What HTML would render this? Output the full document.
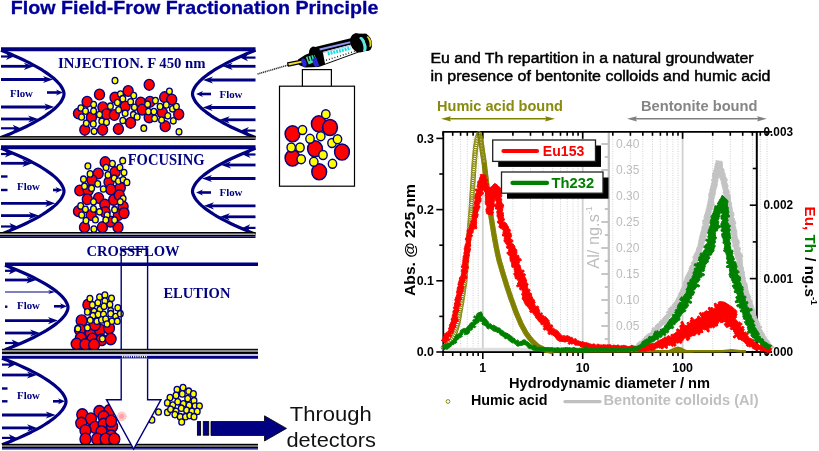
<!DOCTYPE html>
<html lang="en"><head><meta charset="utf-8"><title>Flow Field-Frow Fractionation Principle</title>
<style>html,body{margin:0;padding:0;background:#fff;}body{width:819px;height:451px;overflow:hidden;}svg{display:block;}</style>
</head><body>
<svg width="819" height="451" viewBox="0 0 819 451">
<rect width="819" height="451" fill="#fff"/>
<text x="10.8" y="14.1" font-family="'Liberation Sans', sans-serif" font-size="17.8" font-weight="bold" fill="#000099" textLength="367.5" lengthAdjust="spacingAndGlyphs" stroke="#000099" stroke-width="0.3">Flow Field-Frow Fractionation Principle</text>
<g id="fff">
<line x1="1" y1="49.2" x2="255.5" y2="49.2" stroke="#000080" stroke-width="4"/>
<path d="M1,50.2 L5.5,52 L9.9,53.8 L14.1,55.7 L18.2,57.5 L22.1,59.3 L25.9,61.1 L29.5,62.9 L33,64.8 L36.3,66.6 L39.5,68.4 L42.5,70.2 L45.3,72.1 L47.9,73.9 L50.4,75.7 L52.7,77.5 L54.8,79.3 L56.7,81.2 L58.4,83 L60,84.8 L61.3,86.6 L62.3,88.4 L63.2,90.3 L63.8,92.1 L64,93.9 L63.8,95.7 L63.2,97.5 L62.3,99.4 L61.3,101.2 L60,103 L58.4,104.8 L56.7,106.6 L54.8,108.5 L52.7,110.3 L50.4,112.1 L47.9,113.9 L45.3,115.8 L42.5,117.6 L39.5,119.4 L36.3,121.2 L33,123 L29.5,124.9 L25.9,126.7 L22.1,128.5 L18.2,130.3 L14.1,132.1 L9.9,134 L5.5,135.8 L1,137.6" fill="none" stroke="#000080" stroke-width="3.2" stroke-linejoin="round"/>
<path d="M255.5,50.2 L251,52 L246.6,53.8 L242.4,55.7 L238.3,57.5 L234.4,59.3 L230.6,61.1 L227,62.9 L223.5,64.8 L220.2,66.6 L217,68.4 L214,70.2 L211.2,72.1 L208.6,73.9 L206.1,75.7 L203.8,77.5 L201.7,79.3 L199.8,81.2 L198.1,83 L196.5,84.8 L195.2,86.6 L194.2,88.4 L193.3,90.3 L192.7,92.1 L192.5,93.9 L192.7,95.7 L193.3,97.5 L194.2,99.4 L195.2,101.2 L196.5,103 L198.1,104.8 L199.8,106.6 L201.7,108.5 L203.8,110.3 L206.1,112.1 L208.6,113.9 L211.2,115.8 L214,117.6 L217,119.4 L220.2,121.2 L223.5,123 L227,124.9 L230.6,126.7 L234.4,128.5 L238.3,130.3 L242.4,132.1 L246.6,134 L251,135.8 L255.5,137.6" fill="none" stroke="#000080" stroke-width="3.2" stroke-linejoin="round"/>
<line x1="1" y1="56.5" x2="9.2" y2="56.5" stroke="#000080" stroke-width="2.2"/>
<polygon points="14,56.5 6,52.9 8.4,56.5 6,60.1" fill="#000080"/>
<line x1="1" y1="66.3" x2="27.8" y2="66.3" stroke="#000080" stroke-width="2.8"/>
<polygon points="33.8,66.3 23.8,62.7 26.8,66.3 23.8,69.9" fill="#000080"/>
<line x1="1" y1="79.5" x2="47" y2="79.5" stroke="#000080" stroke-width="2.8"/>
<polygon points="53,79.5 43,75.9 46,79.5 43,83.1" fill="#000080"/>
<line x1="1" y1="107" x2="48.3" y2="107" stroke="#000080" stroke-width="2.8"/>
<polygon points="54.3,107 44.3,103.4 47.3,107 44.3,110.6" fill="#000080"/>
<line x1="1" y1="119" x2="32.1" y2="119" stroke="#000080" stroke-width="2.8"/>
<polygon points="38.1,119 28.1,115.4 31.1,119 28.1,122.6" fill="#000080"/>
<line x1="1" y1="128.3" x2="15.8" y2="128.3" stroke="#000080" stroke-width="2.2"/>
<polygon points="20.6,128.3 12.6,124.7 15,128.3 12.6,131.9" fill="#000080"/>
<line x1="47" y1="92.5" x2="58.8" y2="92.5" stroke="#000080" stroke-width="2.6"/>
<polygon points="63,92.5 56,89.5 58.1,92.5 56,95.5" fill="#000080"/>
<line x1="255.5" y1="57.6" x2="244.8" y2="57.6" stroke="#000080" stroke-width="2.2"/>
<polygon points="240,57.6 248,54 245.6,57.6 248,61.2" fill="#000080"/>
<line x1="255.5" y1="66.3" x2="228.7" y2="66.3" stroke="#000080" stroke-width="2.8"/>
<polygon points="222.7,66.3 232.7,62.7 229.7,66.3 232.7,69.9" fill="#000080"/>
<line x1="255.5" y1="80" x2="209" y2="80" stroke="#000080" stroke-width="2.8"/>
<polygon points="203,80 213,76.4 210,80 213,83.6" fill="#000080"/>
<line x1="255.5" y1="107.5" x2="208.7" y2="107.5" stroke="#000080" stroke-width="2.8"/>
<polygon points="202.7,107.5 212.7,103.9 209.7,107.5 212.7,111.1" fill="#000080"/>
<line x1="255.5" y1="119.8" x2="225.7" y2="119.8" stroke="#000080" stroke-width="2.8"/>
<polygon points="219.7,119.8 229.7,116.2 226.7,119.8 229.7,123.4" fill="#000080"/>
<line x1="255.5" y1="130.6" x2="245.7" y2="130.6" stroke="#000080" stroke-width="2.2"/>
<polygon points="240.9,130.6 248.9,127 246.5,130.6 248.9,134.2" fill="#000080"/>
<line x1="211" y1="94" x2="200.2" y2="94" stroke="#000080" stroke-width="2.6"/>
<polygon points="196,94 203,91 200.9,94 203,97" fill="#000080"/>
<rect x="0" y="136.1" width="255.5" height="3.9" fill="#000"/>
<rect x="0" y="137.5" width="255.5" height="1.1" fill="#b0b0b0"/>
<line x1="1" y1="147.3" x2="255.5" y2="147.3" stroke="#000080" stroke-width="4"/>
<path d="M1,148.3 L5.5,150.1 L9.9,151.9 L14.1,153.7 L18.2,155.5 L22.1,157.2 L25.9,159 L29.5,160.8 L33,162.6 L36.3,164.4 L39.5,166.2 L42.5,168 L45.3,169.8 L47.9,171.6 L50.4,173.4 L52.7,175.1 L54.8,176.9 L56.7,178.7 L58.4,180.5 L60,182.3 L61.3,184.1 L62.3,185.9 L63.2,187.7 L63.8,189.5 L64,191.2 L63.8,193 L63.2,194.8 L62.3,196.6 L61.3,198.4 L60,200.2 L58.4,202 L56.7,203.8 L54.8,205.6 L52.7,207.4 L50.4,209.1 L47.9,210.9 L45.3,212.7 L42.5,214.5 L39.5,216.3 L36.3,218.1 L33,219.9 L29.5,221.7 L25.9,223.5 L22.1,225.3 L18.2,227 L14.1,228.8 L9.9,230.6 L5.5,232.4 L1,234.2" fill="none" stroke="#000080" stroke-width="3.2" stroke-linejoin="round"/>
<path d="M255.5,148.3 L251,150.1 L246.6,151.9 L242.4,153.7 L238.3,155.5 L234.4,157.2 L230.6,159 L227,160.8 L223.5,162.6 L220.2,164.4 L217,166.2 L214,168 L211.2,169.8 L208.6,171.6 L206.1,173.4 L203.8,175.1 L201.7,176.9 L199.8,178.7 L198.1,180.5 L196.5,182.3 L195.2,184.1 L194.2,185.9 L193.3,187.7 L192.7,189.5 L192.5,191.2 L192.7,193 L193.3,194.8 L194.2,196.6 L195.2,198.4 L196.5,200.2 L198.1,202 L199.8,203.8 L201.7,205.6 L203.8,207.4 L206.1,209.1 L208.6,210.9 L211.2,212.7 L214,214.5 L217,216.3 L220.2,218.1 L223.5,219.9 L227,221.7 L230.6,223.5 L234.4,225.3 L238.3,227 L242.4,228.8 L246.6,230.6 L251,232.4 L255.5,234.2" fill="none" stroke="#000080" stroke-width="3.2" stroke-linejoin="round"/>
<line x1="1" y1="154" x2="8.1" y2="154" stroke="#000080" stroke-width="2.2"/>
<polygon points="12.9,154 4.9,150.4 7.3,154 4.9,157.6" fill="#000080"/>
<line x1="1" y1="163.3" x2="26.3" y2="163.3" stroke="#000080" stroke-width="2.8"/>
<polygon points="32.3,163.3 22.3,159.7 25.3,163.3 22.3,166.9" fill="#000080"/>
<line x1="1" y1="203.3" x2="49.2" y2="203.3" stroke="#000080" stroke-width="2.8"/>
<polygon points="55.2,203.3 45.2,199.7 48.2,203.3 45.2,206.9" fill="#000080"/>
<line x1="1" y1="215.6" x2="32.7" y2="215.6" stroke="#000080" stroke-width="2.8"/>
<polygon points="38.7,215.6 28.7,212 31.7,215.6 28.7,219.2" fill="#000080"/>
<line x1="1" y1="226.5" x2="12.6" y2="226.5" stroke="#000080" stroke-width="2.2"/>
<polygon points="17.4,226.5 9.4,222.9 11.8,226.5 9.4,230.1" fill="#000080"/>
<rect x="1" y="175.3" width="6.5" height="2.4" fill="#000080"/><rect x="1" y="188.8" width="6.5" height="2.4" fill="#000080"/>
<line x1="53" y1="190" x2="58.3" y2="190" stroke="#000080" stroke-width="2.6"/>
<polygon points="62.5,190 55.5,187 57.6,190 55.5,193" fill="#000080"/>
<line x1="255.5" y1="154.5" x2="247.3" y2="154.5" stroke="#000080" stroke-width="2.2"/>
<polygon points="242.5,154.5 250.5,150.9 248.1,154.5 250.5,158.1" fill="#000080"/>
<line x1="255.5" y1="165" x2="227.1" y2="165" stroke="#000080" stroke-width="2.8"/>
<polygon points="221.1,165 231.1,161.4 228.1,165 231.1,168.6" fill="#000080"/>
<line x1="255.5" y1="178.5" x2="208" y2="178.5" stroke="#000080" stroke-width="2.8"/>
<polygon points="202,178.5 212,174.9 209,178.5 212,182.1" fill="#000080"/>
<line x1="255.5" y1="205.8" x2="210" y2="205.8" stroke="#000080" stroke-width="2.8"/>
<polygon points="204,205.8 214,202.2 211,205.8 214,209.4" fill="#000080"/>
<line x1="255.5" y1="216.8" x2="225.9" y2="216.8" stroke="#000080" stroke-width="2.8"/>
<polygon points="219.9,216.8 229.9,213.2 226.9,216.8 229.9,220.4" fill="#000080"/>
<line x1="255.5" y1="227.9" x2="247" y2="227.9" stroke="#000080" stroke-width="2.2"/>
<polygon points="242.2,227.9 250.2,224.3 247.8,227.9 250.2,231.5" fill="#000080"/>
<line x1="211" y1="192.5" x2="200.2" y2="192.5" stroke="#000080" stroke-width="2.6"/>
<polygon points="196,192.5 203,189.5 200.9,192.5 203,195.5" fill="#000080"/>
<rect x="0" y="232" width="255.5" height="4.5" fill="#000"/>
<rect x="0" y="233.6" width="255.5" height="1.1" fill="#f0f0f0"/>
<rect x="0" y="236.5" width="255.5" height="1.5" fill="#000080"/>
<line x1="5" y1="264.2" x2="258" y2="264.2" stroke="#000080" stroke-width="3.4"/>
<path d="M5,265.2 L9.5,267 L13.9,268.7 L18.1,270.5 L22.2,272.2 L26.1,274 L29.9,275.8 L33.5,277.5 L37,279.3 L40.3,281.1 L43.5,282.8 L46.5,284.6 L49.3,286.4 L51.9,288.1 L54.4,289.9 L56.7,291.6 L58.8,293.4 L60.7,295.2 L62.4,296.9 L64,298.7 L65.3,300.4 L66.3,302.2 L67.2,304 L67.8,305.7 L68,307.5 L67.8,309.3 L67.2,311 L66.3,312.8 L65.3,314.6 L64,316.3 L62.4,318.1 L60.7,319.8 L58.8,321.6 L56.7,323.4 L54.4,325.1 L51.9,326.9 L49.3,328.6 L46.5,330.4 L43.5,332.2 L40.3,333.9 L37,335.7 L33.5,337.5 L29.9,339.2 L26.1,341 L22.2,342.8 L18.1,344.5 L13.9,346.3 L9.5,348 L5,349.8" fill="none" stroke="#000080" stroke-width="3.2" stroke-linejoin="round"/>
<line x1="5" y1="270.8" x2="12.1" y2="270.8" stroke="#000080" stroke-width="2.2"/>
<polygon points="16.9,270.8 8.9,267.2 11.3,270.8 8.9,274.4" fill="#000080"/>
<line x1="5" y1="280" x2="30.3" y2="280" stroke="#000080" stroke-width="2.8"/>
<polygon points="36.3,280 26.3,276.4 29.3,280 26.3,283.6" fill="#000080"/>
<line x1="5" y1="320.6" x2="51.9" y2="320.6" stroke="#000080" stroke-width="2.8"/>
<polygon points="57.9,320.6 47.9,317 50.9,320.6 47.9,324.2" fill="#000080"/>
<line x1="5" y1="333" x2="34" y2="333" stroke="#000080" stroke-width="2.8"/>
<polygon points="40,333 30,329.4 33,333 30,336.6" fill="#000080"/>
<line x1="5" y1="343" x2="14.8" y2="343" stroke="#000080" stroke-width="2.2"/>
<polygon points="19.6,343 11.6,339.4 14,343 11.6,346.6" fill="#000080"/>
<line x1="5" y1="292" x2="50.9" y2="292" stroke="#000080" stroke-width="1"/>
<polygon points="55.1,292 48.1,290 50.2,292 48.1,294" fill="#000080"/>
<rect x="5" y="305.5" width="2.4" height="2.4" fill="#000080"/>
<line x1="54" y1="306.3" x2="62.8" y2="306.3" stroke="#000080" stroke-width="2.6"/>
<polygon points="67,306.3 60,303.3 62.1,306.3 60,309.3" fill="#000080"/>
<line x1="2" y1="357.2" x2="258" y2="357.2" stroke="#000080" stroke-width="3"/>
<path d="M2,358.2 L6.6,360 L11,361.8 L15.3,363.6 L19.5,365.4 L23.5,367.2 L27.3,369 L31,370.8 L34.5,372.6 L37.9,374.4 L41.1,376.2 L44.1,378 L47,379.9 L49.7,381.7 L52.2,383.5 L54.5,385.3 L56.6,387.1 L58.6,388.9 L60.3,390.7 L61.9,392.5 L63.2,394.3 L64.3,396.1 L65.2,397.9 L65.8,399.7 L66,401.5 L65.8,403.3 L65.2,405.1 L64.3,406.9 L63.2,408.7 L61.9,410.5 L60.3,412.3 L58.6,414.1 L56.6,415.9 L54.5,417.7 L52.2,419.5 L49.7,421.3 L47,423.1 L44.1,425 L41.1,426.8 L37.9,428.6 L34.5,430.4 L31,432.2 L27.3,434 L23.5,435.8 L19.5,437.6 L15.3,439.4 L11,441.2 L6.6,443 L2,444.8" fill="none" stroke="#000080" stroke-width="3.2" stroke-linejoin="round"/>
<line x1="2" y1="364.6" x2="10.8" y2="364.6" stroke="#000080" stroke-width="2.2"/>
<polygon points="15.6,364.6 7.6,361 10,364.6 7.6,368.2" fill="#000080"/>
<line x1="2" y1="375" x2="30.9" y2="375" stroke="#000080" stroke-width="2.8"/>
<polygon points="36.9,375 26.9,371.4 29.9,375 26.9,378.6" fill="#000080"/>
<line x1="2" y1="415" x2="49.7" y2="415" stroke="#000080" stroke-width="2.8"/>
<polygon points="55.7,415 45.7,411.4 48.7,415 45.7,418.6" fill="#000080"/>
<line x1="2" y1="427.9" x2="31.1" y2="427.9" stroke="#000080" stroke-width="2.8"/>
<polygon points="37.1,427.9 27.1,424.3 30.1,427.9 27.1,431.5" fill="#000080"/>
<line x1="2" y1="437.9" x2="12" y2="437.9" stroke="#000080" stroke-width="2.2"/>
<polygon points="16.8,437.9 8.8,434.3 11.2,437.9 8.8,441.5" fill="#000080"/>
<rect x="2" y="387.3" width="5.5" height="2.4" fill="#000080"/><rect x="2" y="400.1" width="5.5" height="2.4" fill="#000080"/>
<line x1="53" y1="401.3" x2="60.8" y2="401.3" stroke="#000080" stroke-width="2.6"/>
<polygon points="65,401.3 58,398.3 60.1,401.3 58,404.3" fill="#000080"/>
<text x="57.9" y="67.6" font-family="'Liberation Serif', serif" font-size="15.6" font-weight="bold" fill="#000080" textLength="147.7" lengthAdjust="spacingAndGlyphs">INJECTION. F 450 nm</text>
<text x="127.7" y="165.1" font-family="'Liberation Serif', serif" font-size="15.7" font-weight="bold" fill="#000080" textLength="76.8" lengthAdjust="spacingAndGlyphs">FOCUSING</text>
<text x="86.6" y="256.2" font-family="'Liberation Serif', serif" font-size="15.6" font-weight="bold" fill="#000080" textLength="93" lengthAdjust="spacingAndGlyphs">CROSSFLOW</text>
<text x="163.4" y="298.2" font-family="'Liberation Serif', serif" font-size="15.3" font-weight="bold" fill="#000080" textLength="67" lengthAdjust="spacingAndGlyphs">ELUTION</text>
<text x="10" y="97.3" font-family="'Liberation Serif', serif" font-size="11.2" font-weight="bold" fill="#000080" textLength="23" lengthAdjust="spacingAndGlyphs">Flow</text>
<text x="219.5" y="98.3" font-family="'Liberation Serif', serif" font-size="11.2" font-weight="bold" fill="#000080" textLength="23" lengthAdjust="spacingAndGlyphs">Flow</text>
<text x="17" y="189.5" font-family="'Liberation Serif', serif" font-size="11.2" font-weight="bold" fill="#000080" textLength="23" lengthAdjust="spacingAndGlyphs">Flow</text>
<text x="219.5" y="196" font-family="'Liberation Serif', serif" font-size="11.2" font-weight="bold" fill="#000080" textLength="23" lengthAdjust="spacingAndGlyphs">Flow</text>
<text x="17" y="308.5" font-family="'Liberation Serif', serif" font-size="11.2" font-weight="bold" fill="#000080" textLength="23" lengthAdjust="spacingAndGlyphs">Flow</text>
<text x="17" y="399.3" font-family="'Liberation Serif', serif" font-size="11.2" font-weight="bold" fill="#000080" textLength="23" lengthAdjust="spacingAndGlyphs">Flow</text>
<ellipse cx="87.1" cy="101.8" rx="5" ry="5.4" fill="#ff0000" stroke="#000080" stroke-width="1.4"/>
<ellipse cx="99.5" cy="94.5" rx="5" ry="5.4" fill="#ff0000" stroke="#000080" stroke-width="1.4"/>
<ellipse cx="78.5" cy="113.5" rx="5" ry="5.4" fill="#ff0000" stroke="#000080" stroke-width="1.4"/>
<ellipse cx="91.4" cy="117.4" rx="5" ry="5.4" fill="#ff0000" stroke="#000080" stroke-width="1.4"/>
<ellipse cx="102.9" cy="107.3" rx="5" ry="5.4" fill="#ff0000" stroke="#000080" stroke-width="1.4"/>
<ellipse cx="106.5" cy="114.3" rx="5" ry="5.4" fill="#ff0000" stroke="#000080" stroke-width="1.4"/>
<ellipse cx="84.8" cy="129.8" rx="5" ry="5.4" fill="#ff0000" stroke="#000080" stroke-width="1.4"/>
<ellipse cx="102.6" cy="129.8" rx="5" ry="5.4" fill="#ff0000" stroke="#000080" stroke-width="1.4"/>
<ellipse cx="115" cy="97.6" rx="5" ry="5.4" fill="#ff0000" stroke="#000080" stroke-width="1.4"/>
<ellipse cx="128.2" cy="91" rx="5" ry="5.4" fill="#ff0000" stroke="#000080" stroke-width="1.4"/>
<ellipse cx="125.1" cy="106.5" rx="5" ry="5.4" fill="#ff0000" stroke="#000080" stroke-width="1.4"/>
<ellipse cx="114.3" cy="115" rx="5" ry="5.4" fill="#ff0000" stroke="#000080" stroke-width="1.4"/>
<ellipse cx="130.6" cy="122.8" rx="5" ry="5.4" fill="#ff0000" stroke="#000080" stroke-width="1.4"/>
<ellipse cx="118.4" cy="129" rx="5" ry="5.4" fill="#ff0000" stroke="#000080" stroke-width="1.4"/>
<ellipse cx="140.7" cy="102.6" rx="5" ry="5.4" fill="#ff0000" stroke="#000080" stroke-width="1.4"/>
<ellipse cx="142.2" cy="109.6" rx="5" ry="5.4" fill="#ff0000" stroke="#000080" stroke-width="1.4"/>
<ellipse cx="149.2" cy="84.8" rx="5" ry="5.4" fill="#ff0000" stroke="#000080" stroke-width="1.4"/>
<ellipse cx="150" cy="101.8" rx="5" ry="5.4" fill="#ff0000" stroke="#000080" stroke-width="1.4"/>
<ellipse cx="149.2" cy="117.4" rx="5" ry="5.4" fill="#ff0000" stroke="#000080" stroke-width="1.4"/>
<ellipse cx="164.7" cy="97.2" rx="5" ry="5.4" fill="#ff0000" stroke="#000080" stroke-width="1.4"/>
<ellipse cx="171.7" cy="99.5" rx="5" ry="5.4" fill="#ff0000" stroke="#000080" stroke-width="1.4"/>
<ellipse cx="162.4" cy="112.7" rx="5" ry="5.4" fill="#ff0000" stroke="#000080" stroke-width="1.4"/>
<ellipse cx="178.7" cy="114.3" rx="5" ry="5.4" fill="#ff0000" stroke="#000080" stroke-width="1.4"/>
<ellipse cx="165.2" cy="126.2" rx="5" ry="5.4" fill="#ff0000" stroke="#000080" stroke-width="1.4"/>
<ellipse cx="115" cy="80.6" rx="2.9" ry="3.2" fill="#ffff00" stroke="#000080" stroke-width="1.3"/>
<ellipse cx="93.6" cy="104.5" rx="2.9" ry="3.2" fill="#ffff00" stroke="#000080" stroke-width="1.3"/>
<ellipse cx="80.9" cy="108" rx="2.9" ry="3.2" fill="#ffff00" stroke="#000080" stroke-width="1.3"/>
<ellipse cx="85.5" cy="111.1" rx="2.9" ry="3.2" fill="#ffff00" stroke="#000080" stroke-width="1.3"/>
<ellipse cx="93.6" cy="111.1" rx="2.9" ry="3.2" fill="#ffff00" stroke="#000080" stroke-width="1.3"/>
<ellipse cx="81.6" cy="117" rx="2.9" ry="3.2" fill="#ffff00" stroke="#000080" stroke-width="1.3"/>
<ellipse cx="99.5" cy="114.6" rx="2.9" ry="3.2" fill="#ffff00" stroke="#000080" stroke-width="1.3"/>
<ellipse cx="110.4" cy="106.2" rx="2.9" ry="3.2" fill="#ffff00" stroke="#000080" stroke-width="1.3"/>
<ellipse cx="86.3" cy="123.3" rx="2.9" ry="3.2" fill="#ffff00" stroke="#000080" stroke-width="1.3"/>
<ellipse cx="93.3" cy="123.9" rx="2.9" ry="3.2" fill="#ffff00" stroke="#000080" stroke-width="1.3"/>
<ellipse cx="101.8" cy="121.2" rx="2.9" ry="3.2" fill="#ffff00" stroke="#000080" stroke-width="1.3"/>
<ellipse cx="106.5" cy="122.3" rx="2.9" ry="3.2" fill="#ffff00" stroke="#000080" stroke-width="1.3"/>
<ellipse cx="94.1" cy="131.3" rx="2.9" ry="3.2" fill="#ffff00" stroke="#000080" stroke-width="1.3"/>
<ellipse cx="120.5" cy="94.1" rx="2.9" ry="3.2" fill="#ffff00" stroke="#000080" stroke-width="1.3"/>
<ellipse cx="122.8" cy="98.7" rx="2.9" ry="3.2" fill="#ffff00" stroke="#000080" stroke-width="1.3"/>
<ellipse cx="117.4" cy="102.6" rx="2.9" ry="3.2" fill="#ffff00" stroke="#000080" stroke-width="1.3"/>
<ellipse cx="130.6" cy="101.8" rx="2.9" ry="3.2" fill="#ffff00" stroke="#000080" stroke-width="1.3"/>
<ellipse cx="133.7" cy="95.6" rx="2.9" ry="3.2" fill="#ffff00" stroke="#000080" stroke-width="1.3"/>
<ellipse cx="134.4" cy="107.3" rx="2.9" ry="3.2" fill="#ffff00" stroke="#000080" stroke-width="1.3"/>
<ellipse cx="118.6" cy="109.9" rx="2.9" ry="3.2" fill="#ffff00" stroke="#000080" stroke-width="1.3"/>
<ellipse cx="125.1" cy="113.2" rx="2.9" ry="3.2" fill="#ffff00" stroke="#000080" stroke-width="1.3"/>
<ellipse cx="133.4" cy="114.7" rx="2.9" ry="3.2" fill="#ffff00" stroke="#000080" stroke-width="1.3"/>
<ellipse cx="137.1" cy="116.9" rx="2.9" ry="3.2" fill="#ffff00" stroke="#000080" stroke-width="1.3"/>
<ellipse cx="122.8" cy="120.5" rx="2.9" ry="3.2" fill="#ffff00" stroke="#000080" stroke-width="1.3"/>
<ellipse cx="143.8" cy="128.2" rx="2.9" ry="3.2" fill="#ffff00" stroke="#000080" stroke-width="1.3"/>
<ellipse cx="147.6" cy="104.2" rx="2.9" ry="3.2" fill="#ffff00" stroke="#000080" stroke-width="1.3"/>
<ellipse cx="155.4" cy="100.6" rx="2.9" ry="3.2" fill="#ffff00" stroke="#000080" stroke-width="1.3"/>
<ellipse cx="148.4" cy="111.6" rx="2.9" ry="3.2" fill="#ffff00" stroke="#000080" stroke-width="1.3"/>
<ellipse cx="153.9" cy="111.6" rx="2.9" ry="3.2" fill="#ffff00" stroke="#000080" stroke-width="1.3"/>
<ellipse cx="154.6" cy="118.4" rx="2.9" ry="3.2" fill="#ffff00" stroke="#000080" stroke-width="1.3"/>
<ellipse cx="160.1" cy="106.5" rx="2.9" ry="3.2" fill="#ffff00" stroke="#000080" stroke-width="1.3"/>
<ellipse cx="166.3" cy="104.9" rx="2.9" ry="3.2" fill="#ffff00" stroke="#000080" stroke-width="1.3"/>
<ellipse cx="169.4" cy="91.3" rx="2.9" ry="3.2" fill="#ffff00" stroke="#000080" stroke-width="1.3"/>
<ellipse cx="172.5" cy="108.8" rx="2.9" ry="3.2" fill="#ffff00" stroke="#000080" stroke-width="1.3"/>
<ellipse cx="176.4" cy="106.5" rx="2.9" ry="3.2" fill="#ffff00" stroke="#000080" stroke-width="1.3"/>
<ellipse cx="167.8" cy="115.8" rx="2.9" ry="3.2" fill="#ffff00" stroke="#000080" stroke-width="1.3"/>
<ellipse cx="161.6" cy="120" rx="2.9" ry="3.2" fill="#ffff00" stroke="#000080" stroke-width="1.3"/>
<ellipse cx="173.3" cy="120.8" rx="2.9" ry="3.2" fill="#ffff00" stroke="#000080" stroke-width="1.3"/>
<ellipse cx="179" cy="131.8" rx="2.9" ry="3.2" fill="#ffff00" stroke="#000080" stroke-width="1.3"/>
<ellipse cx="105.2" cy="162.2" rx="5" ry="5.4" fill="#ff0000" stroke="#000080" stroke-width="1.4"/>
<ellipse cx="98.2" cy="173.5" rx="5" ry="5.4" fill="#ff0000" stroke="#000080" stroke-width="1.4"/>
<ellipse cx="115" cy="172.2" rx="5" ry="5.4" fill="#ff0000" stroke="#000080" stroke-width="1.4"/>
<ellipse cx="92" cy="180.1" rx="5" ry="5.4" fill="#ff0000" stroke="#000080" stroke-width="1.4"/>
<ellipse cx="109" cy="182" rx="5" ry="5.4" fill="#ff0000" stroke="#000080" stroke-width="1.4"/>
<ellipse cx="79.8" cy="190.5" rx="5" ry="5.4" fill="#ff0000" stroke="#000080" stroke-width="1.4"/>
<ellipse cx="88.2" cy="190.5" rx="5" ry="5.4" fill="#ff0000" stroke="#000080" stroke-width="1.4"/>
<ellipse cx="110.8" cy="189.5" rx="5" ry="5.4" fill="#ff0000" stroke="#000080" stroke-width="1.4"/>
<ellipse cx="120.3" cy="187.7" rx="5" ry="5.4" fill="#ff0000" stroke="#000080" stroke-width="1.4"/>
<ellipse cx="87.3" cy="199.3" rx="5" ry="5.4" fill="#ff0000" stroke="#000080" stroke-width="1.4"/>
<ellipse cx="98.6" cy="198" rx="5" ry="5.4" fill="#ff0000" stroke="#000080" stroke-width="1.4"/>
<ellipse cx="113.7" cy="199.9" rx="5" ry="5.4" fill="#ff0000" stroke="#000080" stroke-width="1.4"/>
<ellipse cx="119.3" cy="195.2" rx="5" ry="5.4" fill="#ff0000" stroke="#000080" stroke-width="1.4"/>
<ellipse cx="104.8" cy="204.6" rx="5" ry="5.4" fill="#ff0000" stroke="#000080" stroke-width="1.4"/>
<ellipse cx="123.1" cy="206.5" rx="5" ry="5.4" fill="#ff0000" stroke="#000080" stroke-width="1.4"/>
<ellipse cx="78.5" cy="211.2" rx="5" ry="5.4" fill="#ff0000" stroke="#000080" stroke-width="1.4"/>
<ellipse cx="91.1" cy="215" rx="5" ry="5.4" fill="#ff0000" stroke="#000080" stroke-width="1.4"/>
<ellipse cx="105.2" cy="212.1" rx="5" ry="5.4" fill="#ff0000" stroke="#000080" stroke-width="1.4"/>
<ellipse cx="118.4" cy="215" rx="5" ry="5.4" fill="#ff0000" stroke="#000080" stroke-width="1.4"/>
<ellipse cx="124" cy="213.1" rx="5" ry="5.4" fill="#ff0000" stroke="#000080" stroke-width="1.4"/>
<ellipse cx="84.5" cy="227.2" rx="5" ry="5.4" fill="#ff0000" stroke="#000080" stroke-width="1.4"/>
<ellipse cx="102.4" cy="227.2" rx="5" ry="5.4" fill="#ff0000" stroke="#000080" stroke-width="1.4"/>
<ellipse cx="118" cy="227.2" rx="5" ry="5.4" fill="#ff0000" stroke="#000080" stroke-width="1.4"/>
<ellipse cx="110.5" cy="221.6" rx="5" ry="5.4" fill="#ff0000" stroke="#000080" stroke-width="1.4"/>
<ellipse cx="87.9" cy="166" rx="2.9" ry="3.2" fill="#ffff00" stroke="#000080" stroke-width="1.3"/>
<ellipse cx="122.7" cy="160.7" rx="2.9" ry="3.2" fill="#ffff00" stroke="#000080" stroke-width="1.3"/>
<ellipse cx="112.4" cy="163.6" rx="2.9" ry="3.2" fill="#ffff00" stroke="#000080" stroke-width="1.3"/>
<ellipse cx="106.1" cy="167.5" rx="2.9" ry="3.2" fill="#ffff00" stroke="#000080" stroke-width="1.3"/>
<ellipse cx="119.9" cy="167.5" rx="2.9" ry="3.2" fill="#ffff00" stroke="#000080" stroke-width="1.3"/>
<ellipse cx="90.1" cy="173.9" rx="2.9" ry="3.2" fill="#ffff00" stroke="#000080" stroke-width="1.3"/>
<ellipse cx="108" cy="174.9" rx="2.9" ry="3.2" fill="#ffff00" stroke="#000080" stroke-width="1.3"/>
<ellipse cx="124" cy="172.6" rx="2.9" ry="3.2" fill="#ffff00" stroke="#000080" stroke-width="1.3"/>
<ellipse cx="83.5" cy="179.2" rx="2.9" ry="3.2" fill="#ffff00" stroke="#000080" stroke-width="1.3"/>
<ellipse cx="114.2" cy="178.2" rx="2.9" ry="3.2" fill="#ffff00" stroke="#000080" stroke-width="1.3"/>
<ellipse cx="118.4" cy="181.1" rx="2.9" ry="3.2" fill="#ffff00" stroke="#000080" stroke-width="1.3"/>
<ellipse cx="123.1" cy="179.8" rx="2.9" ry="3.2" fill="#ffff00" stroke="#000080" stroke-width="1.3"/>
<ellipse cx="126.9" cy="182.4" rx="2.9" ry="3.2" fill="#ffff00" stroke="#000080" stroke-width="1.3"/>
<ellipse cx="97.7" cy="183.9" rx="2.9" ry="3.2" fill="#ffff00" stroke="#000080" stroke-width="1.3"/>
<ellipse cx="84.5" cy="186.2" rx="2.9" ry="3.2" fill="#ffff00" stroke="#000080" stroke-width="1.3"/>
<ellipse cx="91.6" cy="188.2" rx="2.9" ry="3.2" fill="#ffff00" stroke="#000080" stroke-width="1.3"/>
<ellipse cx="103.3" cy="189" rx="2.9" ry="3.2" fill="#ffff00" stroke="#000080" stroke-width="1.3"/>
<ellipse cx="123.1" cy="198.6" rx="2.9" ry="3.2" fill="#ffff00" stroke="#000080" stroke-width="1.3"/>
<ellipse cx="120.3" cy="201.8" rx="2.9" ry="3.2" fill="#ffff00" stroke="#000080" stroke-width="1.3"/>
<ellipse cx="93.5" cy="201.8" rx="2.9" ry="3.2" fill="#ffff00" stroke="#000080" stroke-width="1.3"/>
<ellipse cx="80.7" cy="205.9" rx="2.9" ry="3.2" fill="#ffff00" stroke="#000080" stroke-width="1.3"/>
<ellipse cx="85.4" cy="209.3" rx="2.9" ry="3.2" fill="#ffff00" stroke="#000080" stroke-width="1.3"/>
<ellipse cx="93.5" cy="208.9" rx="2.9" ry="3.2" fill="#ffff00" stroke="#000080" stroke-width="1.3"/>
<ellipse cx="99.5" cy="211.8" rx="2.9" ry="3.2" fill="#ffff00" stroke="#000080" stroke-width="1.3"/>
<ellipse cx="114.6" cy="209.7" rx="2.9" ry="3.2" fill="#ffff00" stroke="#000080" stroke-width="1.3"/>
<ellipse cx="81.7" cy="215" rx="2.9" ry="3.2" fill="#ffff00" stroke="#000080" stroke-width="1.3"/>
<ellipse cx="107.1" cy="215" rx="2.9" ry="3.2" fill="#ffff00" stroke="#000080" stroke-width="1.3"/>
<ellipse cx="86" cy="220.6" rx="2.9" ry="3.2" fill="#ffff00" stroke="#000080" stroke-width="1.3"/>
<ellipse cx="95.4" cy="219.7" rx="2.9" ry="3.2" fill="#ffff00" stroke="#000080" stroke-width="1.3"/>
<ellipse cx="105.8" cy="220.1" rx="2.9" ry="3.2" fill="#ffff00" stroke="#000080" stroke-width="1.3"/>
<ellipse cx="114.6" cy="220.1" rx="2.9" ry="3.2" fill="#ffff00" stroke="#000080" stroke-width="1.3"/>
<ellipse cx="93.9" cy="229.1" rx="2.9" ry="3.2" fill="#ffff00" stroke="#000080" stroke-width="1.3"/>
<ellipse cx="81.6" cy="320.7" rx="5.4" ry="5.8" fill="#ff0000" stroke="#000080" stroke-width="1.4"/>
<ellipse cx="88.3" cy="304.9" rx="5.4" ry="5.8" fill="#ff0000" stroke="#000080" stroke-width="1.4"/>
<ellipse cx="79.9" cy="329.9" rx="5.4" ry="5.8" fill="#ff0000" stroke="#000080" stroke-width="1.4"/>
<ellipse cx="90.7" cy="333.2" rx="5.4" ry="5.8" fill="#ff0000" stroke="#000080" stroke-width="1.4"/>
<ellipse cx="99.9" cy="329.9" rx="5.4" ry="5.8" fill="#ff0000" stroke="#000080" stroke-width="1.4"/>
<ellipse cx="109" cy="328.2" rx="5.4" ry="5.8" fill="#ff0000" stroke="#000080" stroke-width="1.4"/>
<ellipse cx="80.8" cy="338.2" rx="5.4" ry="5.8" fill="#ff0000" stroke="#000080" stroke-width="1.4"/>
<ellipse cx="92.4" cy="339" rx="5.4" ry="5.8" fill="#ff0000" stroke="#000080" stroke-width="1.4"/>
<ellipse cx="101.5" cy="339.8" rx="5.4" ry="5.8" fill="#ff0000" stroke="#000080" stroke-width="1.4"/>
<ellipse cx="110.7" cy="339" rx="5.4" ry="5.8" fill="#ff0000" stroke="#000080" stroke-width="1.4"/>
<ellipse cx="76.6" cy="344" rx="5.4" ry="5.8" fill="#ff0000" stroke="#000080" stroke-width="1.4"/>
<ellipse cx="85.3" cy="344.5" rx="5.4" ry="5.8" fill="#ff0000" stroke="#000080" stroke-width="1.4"/>
<ellipse cx="94.1" cy="344.8" rx="5.4" ry="5.8" fill="#ff0000" stroke="#000080" stroke-width="1.4"/>
<ellipse cx="94.9" cy="324.9" rx="5.4" ry="5.8" fill="#ff0000" stroke="#000080" stroke-width="1.4"/>
<ellipse cx="89.9" cy="298.6" rx="2.9" ry="3.2" fill="#ffff00" stroke="#000080" stroke-width="1.3"/>
<ellipse cx="99.6" cy="297.1" rx="2.9" ry="3.2" fill="#ffff00" stroke="#000080" stroke-width="1.3"/>
<ellipse cx="104.9" cy="295" rx="2.9" ry="3.2" fill="#ffff00" stroke="#000080" stroke-width="1.3"/>
<ellipse cx="111.5" cy="298.3" rx="2.9" ry="3.2" fill="#ffff00" stroke="#000080" stroke-width="1.3"/>
<ellipse cx="92.4" cy="304.9" rx="2.9" ry="3.2" fill="#ffff00" stroke="#000080" stroke-width="1.3"/>
<ellipse cx="97.9" cy="302.8" rx="2.9" ry="3.2" fill="#ffff00" stroke="#000080" stroke-width="1.3"/>
<ellipse cx="104.9" cy="301.1" rx="2.9" ry="3.2" fill="#ffff00" stroke="#000080" stroke-width="1.3"/>
<ellipse cx="109.9" cy="304.6" rx="2.9" ry="3.2" fill="#ffff00" stroke="#000080" stroke-width="1.3"/>
<ellipse cx="117.8" cy="307.8" rx="2.9" ry="3.2" fill="#ffff00" stroke="#000080" stroke-width="1.3"/>
<ellipse cx="87.4" cy="311.9" rx="2.9" ry="3.2" fill="#ffff00" stroke="#000080" stroke-width="1.3"/>
<ellipse cx="94.1" cy="311.6" rx="2.9" ry="3.2" fill="#ffff00" stroke="#000080" stroke-width="1.3"/>
<ellipse cx="99.9" cy="309.6" rx="2.9" ry="3.2" fill="#ffff00" stroke="#000080" stroke-width="1.3"/>
<ellipse cx="104" cy="306.3" rx="2.9" ry="3.2" fill="#ffff00" stroke="#000080" stroke-width="1.3"/>
<ellipse cx="110.7" cy="310.7" rx="2.9" ry="3.2" fill="#ffff00" stroke="#000080" stroke-width="1.3"/>
<ellipse cx="92.9" cy="315.7" rx="2.9" ry="3.2" fill="#ffff00" stroke="#000080" stroke-width="1.3"/>
<ellipse cx="98.2" cy="314.4" rx="2.9" ry="3.2" fill="#ffff00" stroke="#000080" stroke-width="1.3"/>
<ellipse cx="103.5" cy="314.4" rx="2.9" ry="3.2" fill="#ffff00" stroke="#000080" stroke-width="1.3"/>
<ellipse cx="110.7" cy="313.7" rx="2.9" ry="3.2" fill="#ffff00" stroke="#000080" stroke-width="1.3"/>
<ellipse cx="115.7" cy="316.6" rx="2.9" ry="3.2" fill="#ffff00" stroke="#000080" stroke-width="1.3"/>
<ellipse cx="120.3" cy="313.7" rx="2.9" ry="3.2" fill="#ffff00" stroke="#000080" stroke-width="1.3"/>
<ellipse cx="90.2" cy="320.2" rx="2.9" ry="3.2" fill="#ffff00" stroke="#000080" stroke-width="1.3"/>
<ellipse cx="96.9" cy="321.2" rx="2.9" ry="3.2" fill="#ffff00" stroke="#000080" stroke-width="1.3"/>
<ellipse cx="101.5" cy="319.9" rx="2.9" ry="3.2" fill="#ffff00" stroke="#000080" stroke-width="1.3"/>
<ellipse cx="105.7" cy="319.1" rx="2.9" ry="3.2" fill="#ffff00" stroke="#000080" stroke-width="1.3"/>
<ellipse cx="111.9" cy="321.2" rx="2.9" ry="3.2" fill="#ffff00" stroke="#000080" stroke-width="1.3"/>
<ellipse cx="117.3" cy="321.2" rx="2.9" ry="3.2" fill="#ffff00" stroke="#000080" stroke-width="1.3"/>
<ellipse cx="107" cy="324" rx="2.9" ry="3.2" fill="#ffff00" stroke="#000080" stroke-width="1.3"/>
<ellipse cx="87.4" cy="327.7" rx="2.9" ry="3.2" fill="#ffff00" stroke="#000080" stroke-width="1.3"/>
<ellipse cx="77.9" cy="328.7" rx="2.9" ry="3.2" fill="#ffff00" stroke="#000080" stroke-width="1.3"/>
<ellipse cx="102.4" cy="338.7" rx="2.9" ry="3.2" fill="#ffff00" stroke="#000080" stroke-width="1.3"/>
<rect x="2" y="348.8" width="256" height="4.2" fill="#000"/>
<rect x="2" y="349.9" width="256" height="2.1" fill="#8c8c8c"/>
<rect x="2" y="353" width="256" height="1.2" fill="#000080"/>
<ellipse cx="82.3" cy="414.6" rx="5.5" ry="5.9" fill="#ff0000" stroke="#000080" stroke-width="1.4"/>
<ellipse cx="99.4" cy="411.4" rx="5.5" ry="5.9" fill="#ff0000" stroke="#000080" stroke-width="1.4"/>
<ellipse cx="109.4" cy="410.7" rx="5.5" ry="5.9" fill="#ff0000" stroke="#000080" stroke-width="1.4"/>
<ellipse cx="90.9" cy="418.8" rx="5.5" ry="5.9" fill="#ff0000" stroke="#000080" stroke-width="1.4"/>
<ellipse cx="103.6" cy="416.7" rx="5.5" ry="5.9" fill="#ff0000" stroke="#000080" stroke-width="1.4"/>
<ellipse cx="81.3" cy="423.1" rx="5.5" ry="5.9" fill="#ff0000" stroke="#000080" stroke-width="1.4"/>
<ellipse cx="95.1" cy="427.3" rx="5.5" ry="5.9" fill="#ff0000" stroke="#000080" stroke-width="1.4"/>
<ellipse cx="103.6" cy="424.1" rx="5.5" ry="5.9" fill="#ff0000" stroke="#000080" stroke-width="1.4"/>
<ellipse cx="112.1" cy="426.3" rx="5.5" ry="5.9" fill="#ff0000" stroke="#000080" stroke-width="1.4"/>
<ellipse cx="85.5" cy="430.5" rx="5.5" ry="5.9" fill="#ff0000" stroke="#000080" stroke-width="1.4"/>
<ellipse cx="101.5" cy="431.6" rx="5.5" ry="5.9" fill="#ff0000" stroke="#000080" stroke-width="1.4"/>
<ellipse cx="111.1" cy="435.9" rx="5.5" ry="5.9" fill="#ff0000" stroke="#000080" stroke-width="1.4"/>
<ellipse cx="85.5" cy="439" rx="5.5" ry="5.9" fill="#ff0000" stroke="#000080" stroke-width="1.4"/>
<ellipse cx="97.2" cy="439" rx="5.5" ry="5.9" fill="#ff0000" stroke="#000080" stroke-width="1.4"/>
<ellipse cx="105.7" cy="439" rx="5.5" ry="5.9" fill="#ff0000" stroke="#000080" stroke-width="1.4"/>
<ellipse cx="114.3" cy="439" rx="5.5" ry="5.9" fill="#ff0000" stroke="#000080" stroke-width="1.4"/>
<ellipse cx="111.1" cy="421" rx="5.5" ry="5.9" fill="#ff0000" stroke="#000080" stroke-width="1.4"/>
<ellipse cx="177" cy="389.5" rx="2.9" ry="3.2" fill="#ffff00" stroke="#000080" stroke-width="1.3"/>
<ellipse cx="183" cy="387.6" rx="2.9" ry="3.2" fill="#ffff00" stroke="#000080" stroke-width="1.3"/>
<ellipse cx="188.7" cy="391.2" rx="2.9" ry="3.2" fill="#ffff00" stroke="#000080" stroke-width="1.3"/>
<ellipse cx="193.4" cy="393.9" rx="2.9" ry="3.2" fill="#ffff00" stroke="#000080" stroke-width="1.3"/>
<ellipse cx="170" cy="397.6" rx="2.9" ry="3.2" fill="#ffff00" stroke="#000080" stroke-width="1.3"/>
<ellipse cx="176" cy="395.4" rx="2.9" ry="3.2" fill="#ffff00" stroke="#000080" stroke-width="1.3"/>
<ellipse cx="182.3" cy="393.9" rx="2.9" ry="3.2" fill="#ffff00" stroke="#000080" stroke-width="1.3"/>
<ellipse cx="187.7" cy="398.6" rx="2.9" ry="3.2" fill="#ffff00" stroke="#000080" stroke-width="1.3"/>
<ellipse cx="194" cy="400.7" rx="2.9" ry="3.2" fill="#ffff00" stroke="#000080" stroke-width="1.3"/>
<ellipse cx="167.4" cy="402.9" rx="2.9" ry="3.2" fill="#ffff00" stroke="#000080" stroke-width="1.3"/>
<ellipse cx="172.8" cy="405" rx="2.9" ry="3.2" fill="#ffff00" stroke="#000080" stroke-width="1.3"/>
<ellipse cx="177.7" cy="401.8" rx="2.9" ry="3.2" fill="#ffff00" stroke="#000080" stroke-width="1.3"/>
<ellipse cx="183.4" cy="403.9" rx="2.9" ry="3.2" fill="#ffff00" stroke="#000080" stroke-width="1.3"/>
<ellipse cx="189.1" cy="405.4" rx="2.9" ry="3.2" fill="#ffff00" stroke="#000080" stroke-width="1.3"/>
<ellipse cx="195.1" cy="406.1" rx="2.9" ry="3.2" fill="#ffff00" stroke="#000080" stroke-width="1.3"/>
<ellipse cx="199.4" cy="406.1" rx="2.9" ry="3.2" fill="#ffff00" stroke="#000080" stroke-width="1.3"/>
<ellipse cx="167.4" cy="412.4" rx="2.9" ry="3.2" fill="#ffff00" stroke="#000080" stroke-width="1.3"/>
<ellipse cx="170.6" cy="409.3" rx="2.9" ry="3.2" fill="#ffff00" stroke="#000080" stroke-width="1.3"/>
<ellipse cx="176" cy="411.4" rx="2.9" ry="3.2" fill="#ffff00" stroke="#000080" stroke-width="1.3"/>
<ellipse cx="181.3" cy="408.2" rx="2.9" ry="3.2" fill="#ffff00" stroke="#000080" stroke-width="1.3"/>
<ellipse cx="186.6" cy="410.3" rx="2.9" ry="3.2" fill="#ffff00" stroke="#000080" stroke-width="1.3"/>
<ellipse cx="191.9" cy="411.4" rx="2.9" ry="3.2" fill="#ffff00" stroke="#000080" stroke-width="1.3"/>
<ellipse cx="197.2" cy="411.4" rx="2.9" ry="3.2" fill="#ffff00" stroke="#000080" stroke-width="1.3"/>
<ellipse cx="174.9" cy="414.6" rx="2.9" ry="3.2" fill="#ffff00" stroke="#000080" stroke-width="1.3"/>
<ellipse cx="180.2" cy="416.7" rx="2.9" ry="3.2" fill="#ffff00" stroke="#000080" stroke-width="1.3"/>
<ellipse cx="185.5" cy="416.7" rx="2.9" ry="3.2" fill="#ffff00" stroke="#000080" stroke-width="1.3"/>
<ellipse cx="189.8" cy="415.6" rx="2.9" ry="3.2" fill="#ffff00" stroke="#000080" stroke-width="1.3"/>
<ellipse cx="194" cy="416.7" rx="2.9" ry="3.2" fill="#ffff00" stroke="#000080" stroke-width="1.3"/>
<ellipse cx="181.7" cy="422" rx="2.9" ry="3.2" fill="#ffff00" stroke="#000080" stroke-width="1.3"/>
<ellipse cx="158.5" cy="412" rx="2.9" ry="3.2" fill="#ffff00" stroke="#000080" stroke-width="1.3"/>
<ellipse cx="151.9" cy="419.9" rx="2.9" ry="3.2" fill="#ffff00" stroke="#000080" stroke-width="1.3"/>
<rect x="2" y="443.8" width="256" height="4.5" fill="#000"/>
<rect x="2" y="445.2" width="256" height="1.6" fill="#8c8c8c"/>
<rect x="2" y="448.3" width="256" height="1.2" fill="#000080"/>
<path d="M121.2,349.5 V249.3 H147.6 V349.5" stroke="#000080" stroke-width="1.4" fill="none"/>
<path d="M121.2,358.5 V399.7 H106.5 L133.6,449 L161,399.7 H147.6 V358.5" fill="#fff" stroke="#000080" stroke-width="1.4" stroke-linejoin="miter"/>
<line x1="122" y1="356.6" x2="147" y2="356.6" stroke="#fff" stroke-width="1.6" stroke-dasharray="1.2 1"/>
<circle cx="121.7" cy="416.3" r="4.4" fill="#ffd0d0" stroke="#ff9090" stroke-width="0.8" stroke-dasharray="1 1"/>
<circle cx="121.7" cy="416.3" r="2.6" fill="#ff8080" opacity="0.55"/>
<rect x="197.4" y="421.6" width="3.2" height="13.6" fill="#000080" stroke="#000" stroke-width="0.9"/>
<rect x="203.3" y="421.6" width="5.4" height="13.6" fill="#000080" stroke="#000" stroke-width="0.9"/>
<polygon points="211,421.5 264.5,421.5 264.5,415.8 286.5,428.4 264.5,441 264.5,435.5 211,435.5" fill="#000080" stroke="#000" stroke-width="0.8"/>
<text x="289.7" y="421.3" font-family="'Liberation Sans', sans-serif" font-size="20.8" font-weight="normal" fill="#111" textLength="82" lengthAdjust="spacingAndGlyphs">Through</text>
<text x="286.4" y="447.2" font-family="'Liberation Sans', sans-serif" font-size="20.8" font-weight="normal" fill="#111" textLength="89.6" lengthAdjust="spacingAndGlyphs">detectors</text>
<rect x="302.4" y="69.6" width="29" height="17" fill="#fff" stroke="#000" stroke-width="1.2"/>
<rect x="279.5" y="86.2" width="75" height="100" fill="#fff" stroke="#000" stroke-width="1.2"/>
<ellipse cx="292.5" cy="133.8" rx="7.4" ry="8" fill="#ff0000" stroke="#000080" stroke-width="1.5"/>
<ellipse cx="318.8" cy="123.8" rx="7.4" ry="8" fill="#ff0000" stroke="#000080" stroke-width="1.5"/>
<ellipse cx="330" cy="127.5" rx="7.4" ry="8" fill="#ff0000" stroke="#000080" stroke-width="1.5"/>
<ellipse cx="315" cy="148.8" rx="7.4" ry="8" fill="#ff0000" stroke="#000080" stroke-width="1.5"/>
<ellipse cx="292.5" cy="158" rx="7.4" ry="8" fill="#ff0000" stroke="#000080" stroke-width="1.5"/>
<ellipse cx="342" cy="152" rx="7.4" ry="8" fill="#ff0000" stroke="#000080" stroke-width="1.5"/>
<ellipse cx="319.2" cy="171.8" rx="7.4" ry="8" fill="#ff0000" stroke="#000080" stroke-width="1.5"/>
<ellipse cx="325.8" cy="114.2" rx="4.2" ry="4.5" fill="#ffff00" stroke="#000080" stroke-width="1.4"/>
<ellipse cx="302.5" cy="130" rx="4.2" ry="4.5" fill="#ffff00" stroke="#000080" stroke-width="1.4"/>
<ellipse cx="310" cy="138.8" rx="4.2" ry="4.5" fill="#ffff00" stroke="#000080" stroke-width="1.4"/>
<ellipse cx="320.8" cy="136.2" rx="4.2" ry="4.5" fill="#ffff00" stroke="#000080" stroke-width="1.4"/>
<ellipse cx="291.2" cy="147.5" rx="4.2" ry="4.5" fill="#ffff00" stroke="#000080" stroke-width="1.4"/>
<ellipse cx="300" cy="147.5" rx="4.2" ry="4.5" fill="#ffff00" stroke="#000080" stroke-width="1.4"/>
<ellipse cx="301.2" cy="159.2" rx="4.2" ry="4.5" fill="#ffff00" stroke="#000080" stroke-width="1.4"/>
<ellipse cx="313.8" cy="161.8" rx="4.2" ry="4.5" fill="#ffff00" stroke="#000080" stroke-width="1.4"/>
<ellipse cx="323" cy="155" rx="4.2" ry="4.5" fill="#ffff00" stroke="#000080" stroke-width="1.4"/>
<ellipse cx="332" cy="143" rx="4.2" ry="4.5" fill="#ffff00" stroke="#000080" stroke-width="1.4"/>
<ellipse cx="337.5" cy="139.2" rx="4.2" ry="4.5" fill="#ffff00" stroke="#000080" stroke-width="1.4"/>
<ellipse cx="332.5" cy="163.8" rx="4.2" ry="4.5" fill="#ffff00" stroke="#000080" stroke-width="1.4"/>
<g id="syringe">
<line x1="257.5" y1="74" x2="289" y2="64.8" stroke="#333" stroke-width="1.6" stroke-dasharray="1.2 0.7"/>
<polygon points="298,59.5 305,55 312,52 320,62 318,67 305,67.6 299,65" fill="#000"/>
<polygon points="287.6,62.8 303,59.8 303.8,62.8 288.4,66.2" fill="#f5e030" stroke="#000" stroke-width="1.2" stroke-linejoin="round"/>
<ellipse cx="315.4" cy="56.8" rx="6" ry="10.6" fill="#000" transform="rotate(-17 315.4 56.8)"/>
<ellipse cx="304" cy="62.6" rx="2.4" ry="4.3" fill="#2828d8" transform="rotate(-17 304 62.6)"/>
<polygon points="305.8,57 314.6,54.8 316.8,61 308.6,64.6" fill="#48e0a8"/>
<path d="M308,56.4 L309.4,61 M310.8,55.7 L312.3,60.6 M313.5,55 L315,60" stroke="#000" stroke-width="1.1"/>
<ellipse cx="316.2" cy="62.2" rx="3.3" ry="4.6" fill="#2828d8" transform="rotate(-17 316.2 62.2)"/>
<polygon points="313.2,47.4 352.7,37.8 358.5,52.6 319.5,66.7" fill="#000"/>
<polygon points="319.3,48.5 358,39.4 358.5,41.3 319.9,50.5" fill="#8d98ee"/>
<polygon points="322.8,51.9 360,42.2 360,51 325,63.7" fill="#fff"/><polygon points="322.8,51.9 360,42.2 360,43.4 323,53.2" fill="#b8c4e8"/>
<line x1="327.8" y1="53.9" x2="350.7" y2="48.1" stroke="#10e0e8" stroke-width="3.3" stroke-dasharray="1.9 1.0"/>
<line x1="326.2" y1="60.2" x2="354.6" y2="51.4" stroke="#000" stroke-width="1.5" stroke-dasharray="0.8 2.1"/>
<ellipse cx="357.4" cy="42.8" rx="7" ry="9.8" fill="#000" transform="rotate(-17 357.4 42.8)"/>
<ellipse cx="366" cy="42.4" rx="5.8" ry="8.8" fill="#000" transform="rotate(-17 366 42.4)"/>
<polygon points="355,33.6 366.5,33.8 369,50 360.4,52.4" fill="#000"/>
<ellipse cx="362.6" cy="44.4" rx="3.6" ry="7.6" fill="#5ce8e0" transform="rotate(-17 362.2 44.4)"/>
<ellipse cx="360" cy="44.9" rx="2.9" ry="7.2" fill="#000" transform="rotate(-17 360 44.9)"/>
<ellipse cx="368.7" cy="41.6" rx="2.5" ry="5.4" fill="#e6d21c" transform="rotate(-17 368.6 41.6)"/>
<ellipse cx="367.2" cy="41.9" rx="1.9" ry="5" fill="#000" transform="rotate(-17 367.2 41.9)"/>
</g>
</g>
<g id="chart">
<text x="430.5" y="62.5" font-family="'Liberation Sans', sans-serif" font-size="14" font-weight="normal" fill="#000" textLength="323" lengthAdjust="spacingAndGlyphs" stroke="#000" stroke-width="0.45">Eu and Th repartition in a natural groundwater</text>
<text x="430.5" y="81.3" font-family="'Liberation Sans', sans-serif" font-size="14" font-weight="normal" fill="#000" textLength="340" lengthAdjust="spacingAndGlyphs" stroke="#000" stroke-width="0.45">in presence of bentonite colloids and humic acid</text>
<text x="437" y="110.8" font-family="'Liberation Sans', sans-serif" font-size="14.5" font-weight="bold" fill="#8a8a10" textLength="126" lengthAdjust="spacingAndGlyphs">Humic acid bound</text>
<line x1="445" y1="118.8" x2="551" y2="118.8" stroke="#808000" stroke-width="1.6"/>
<polygon points="441,118.8 451,116.2 449.5,118.8 451,121.4" fill="#808000"/><polygon points="555,118.8 545,116.2 546.5,118.8 545,121.4" fill="#808000"/>
<text x="641" y="110.8" font-family="'Liberation Sans', sans-serif" font-size="14.5" font-weight="bold" fill="#858585" textLength="116.5" lengthAdjust="spacingAndGlyphs">Bentonite bound</text>
<line x1="631" y1="118.8" x2="763" y2="118.8" stroke="#808080" stroke-width="1.6"/>
<polygon points="627,118.8 637,116.2 635.5,118.8 637,121.4" fill="#808080"/><polygon points="767,118.8 757,116.2 758.5,118.8 757,121.4" fill="#808080"/>
<line x1="452.7" y1="131.8" x2="452.7" y2="352.0" stroke="#cfcfcf" stroke-width="1" stroke-dasharray="1 1.4"/>
<line x1="460.6" y1="131.8" x2="460.6" y2="352.0" stroke="#cfcfcf" stroke-width="1" stroke-dasharray="1 1.4"/>
<line x1="467.3" y1="131.8" x2="467.3" y2="352.0" stroke="#cfcfcf" stroke-width="1" stroke-dasharray="1 1.4"/>
<line x1="473.1" y1="131.8" x2="473.1" y2="352.0" stroke="#cfcfcf" stroke-width="1" stroke-dasharray="1 1.4"/>
<line x1="478.2" y1="131.8" x2="478.2" y2="352.0" stroke="#cfcfcf" stroke-width="1" stroke-dasharray="1 1.4"/>
<line x1="512.9" y1="131.8" x2="512.9" y2="352.0" stroke="#cfcfcf" stroke-width="1" stroke-dasharray="1 1.4"/>
<line x1="530.5" y1="131.8" x2="530.5" y2="352.0" stroke="#cfcfcf" stroke-width="1" stroke-dasharray="1 1.4"/>
<line x1="542.9" y1="131.8" x2="542.9" y2="352.0" stroke="#cfcfcf" stroke-width="1" stroke-dasharray="1 1.4"/>
<line x1="552.6" y1="131.8" x2="552.6" y2="352.0" stroke="#cfcfcf" stroke-width="1" stroke-dasharray="1 1.4"/>
<line x1="560.5" y1="131.8" x2="560.5" y2="352.0" stroke="#cfcfcf" stroke-width="1" stroke-dasharray="1 1.4"/>
<line x1="567.2" y1="131.8" x2="567.2" y2="352.0" stroke="#cfcfcf" stroke-width="1" stroke-dasharray="1 1.4"/>
<line x1="573" y1="131.8" x2="573" y2="352.0" stroke="#cfcfcf" stroke-width="1" stroke-dasharray="1 1.4"/>
<line x1="578.1" y1="131.8" x2="578.1" y2="352.0" stroke="#cfcfcf" stroke-width="1" stroke-dasharray="1 1.4"/>
<line x1="612.8" y1="131.8" x2="612.8" y2="352.0" stroke="#cfcfcf" stroke-width="1" stroke-dasharray="1 1.4"/>
<line x1="630.4" y1="131.8" x2="630.4" y2="352.0" stroke="#cfcfcf" stroke-width="1" stroke-dasharray="1 1.4"/>
<line x1="642.8" y1="131.8" x2="642.8" y2="352.0" stroke="#cfcfcf" stroke-width="1" stroke-dasharray="1 1.4"/>
<line x1="652.5" y1="131.8" x2="652.5" y2="352.0" stroke="#cfcfcf" stroke-width="1" stroke-dasharray="1 1.4"/>
<line x1="660.4" y1="131.8" x2="660.4" y2="352.0" stroke="#cfcfcf" stroke-width="1" stroke-dasharray="1 1.4"/>
<line x1="667.1" y1="131.8" x2="667.1" y2="352.0" stroke="#cfcfcf" stroke-width="1" stroke-dasharray="1 1.4"/>
<line x1="672.9" y1="131.8" x2="672.9" y2="352.0" stroke="#cfcfcf" stroke-width="1" stroke-dasharray="1 1.4"/>
<line x1="678" y1="131.8" x2="678" y2="352.0" stroke="#cfcfcf" stroke-width="1" stroke-dasharray="1 1.4"/>
<line x1="712.7" y1="131.8" x2="712.7" y2="352.0" stroke="#cfcfcf" stroke-width="1" stroke-dasharray="1 1.4"/>
<line x1="730.3" y1="131.8" x2="730.3" y2="352.0" stroke="#cfcfcf" stroke-width="1" stroke-dasharray="1 1.4"/>
<line x1="742.7" y1="131.8" x2="742.7" y2="352.0" stroke="#cfcfcf" stroke-width="1" stroke-dasharray="1 1.4"/>
<line x1="752.4" y1="131.8" x2="752.4" y2="352.0" stroke="#cfcfcf" stroke-width="1" stroke-dasharray="1 1.4"/>
<line x1="760.3" y1="131.8" x2="760.3" y2="352.0" stroke="#cfcfcf" stroke-width="1" stroke-dasharray="1 1.4"/>
<line x1="767" y1="131.8" x2="767" y2="352.0" stroke="#cfcfcf" stroke-width="1" stroke-dasharray="1 1.4"/>
<line x1="482.8" y1="131.8" x2="482.8" y2="352.0" stroke="#d0d0d0" stroke-width="1.8"/>
<line x1="582.7" y1="131.8" x2="582.7" y2="352.0" stroke="#d0d0d0" stroke-width="1.8"/>
<line x1="682.6" y1="131.8" x2="682.6" y2="352.0" stroke="#d0d0d0" stroke-width="1.8"/>
<line x1="608.8" y1="131.8" x2="608.8" y2="352.0" stroke="#c0c0c0" stroke-width="2.2"/>
<line x1="601.3" y1="352" x2="608.8" y2="352" stroke="#c0c0c0" stroke-width="1.8"/>
<line x1="604.8" y1="339" x2="608.8" y2="339" stroke="#c0c0c0" stroke-width="1.8"/>
<line x1="601.3" y1="326" x2="608.8" y2="326" stroke="#c0c0c0" stroke-width="1.8"/>
<line x1="604.8" y1="313" x2="608.8" y2="313" stroke="#c0c0c0" stroke-width="1.8"/>
<line x1="601.3" y1="300" x2="608.8" y2="300" stroke="#c0c0c0" stroke-width="1.8"/>
<line x1="604.8" y1="287" x2="608.8" y2="287" stroke="#c0c0c0" stroke-width="1.8"/>
<line x1="601.3" y1="274" x2="608.8" y2="274" stroke="#c0c0c0" stroke-width="1.8"/>
<line x1="604.8" y1="261" x2="608.8" y2="261" stroke="#c0c0c0" stroke-width="1.8"/>
<line x1="601.3" y1="248" x2="608.8" y2="248" stroke="#c0c0c0" stroke-width="1.8"/>
<line x1="604.8" y1="235" x2="608.8" y2="235" stroke="#c0c0c0" stroke-width="1.8"/>
<line x1="601.3" y1="222" x2="608.8" y2="222" stroke="#c0c0c0" stroke-width="1.8"/>
<line x1="604.8" y1="209" x2="608.8" y2="209" stroke="#c0c0c0" stroke-width="1.8"/>
<line x1="601.3" y1="196" x2="608.8" y2="196" stroke="#c0c0c0" stroke-width="1.8"/>
<line x1="604.8" y1="183" x2="608.8" y2="183" stroke="#c0c0c0" stroke-width="1.8"/>
<line x1="601.3" y1="170" x2="608.8" y2="170" stroke="#c0c0c0" stroke-width="1.8"/>
<line x1="604.8" y1="157" x2="608.8" y2="157" stroke="#c0c0c0" stroke-width="1.8"/>
<line x1="601.3" y1="144" x2="608.8" y2="144" stroke="#c0c0c0" stroke-width="1.8"/>
<text x="616" y="330.4" font-family="'Liberation Sans', sans-serif" font-size="12.4" font-weight="normal" fill="#bdbdbd" textLength="23.4" lengthAdjust="spacingAndGlyphs">0.05</text>
<text x="616" y="304.4" font-family="'Liberation Sans', sans-serif" font-size="12.4" font-weight="normal" fill="#bdbdbd" textLength="23.4" lengthAdjust="spacingAndGlyphs">0.10</text>
<text x="616" y="278.4" font-family="'Liberation Sans', sans-serif" font-size="12.4" font-weight="normal" fill="#bdbdbd" textLength="23.4" lengthAdjust="spacingAndGlyphs">0.15</text>
<text x="616" y="252.4" font-family="'Liberation Sans', sans-serif" font-size="12.4" font-weight="normal" fill="#bdbdbd" textLength="23.4" lengthAdjust="spacingAndGlyphs">0.20</text>
<text x="616" y="226.4" font-family="'Liberation Sans', sans-serif" font-size="12.4" font-weight="normal" fill="#bdbdbd" textLength="23.4" lengthAdjust="spacingAndGlyphs">0.25</text>
<text x="616" y="200.4" font-family="'Liberation Sans', sans-serif" font-size="12.4" font-weight="normal" fill="#bdbdbd" textLength="23.4" lengthAdjust="spacingAndGlyphs">0.30</text>
<text x="616" y="174.4" font-family="'Liberation Sans', sans-serif" font-size="12.4" font-weight="normal" fill="#bdbdbd" textLength="23.4" lengthAdjust="spacingAndGlyphs">0.35</text>
<text x="616" y="148.4" font-family="'Liberation Sans', sans-serif" font-size="12.4" font-weight="normal" fill="#bdbdbd" textLength="23.4" lengthAdjust="spacingAndGlyphs">0.40</text>
<text transform="translate(599,268.8) rotate(-90)" font-family="'Liberation Sans', sans-serif" font-size="16.4" fill="#bdbdbd">Al/ ng.s<tspan dy="-7" font-size="9">-1</tspan></text>
<path d="M443.3,131.8 H772.0" stroke="#000" stroke-width="1.8" fill="none"/>
<path d="M443.3,130.9 V352.9" stroke="#000" stroke-width="1.8" fill="none"/>
<path d="M442.40000000000003,352.0 H772.0" stroke="#000" stroke-width="1.8" fill="none"/>
<path d="M756.8,131.8 V352.0" stroke="#000" stroke-width="2" fill="none"/>
<line x1="443" y1="131.8" x2="443" y2="135.8" stroke="#000" stroke-width="1.6"/>
<line x1="443" y1="352.0" x2="443" y2="356" stroke="#000" stroke-width="1.6"/>
<line x1="452.7" y1="131.8" x2="452.7" y2="135.8" stroke="#000" stroke-width="1.6"/>
<line x1="452.7" y1="352.0" x2="452.7" y2="356" stroke="#000" stroke-width="1.6"/>
<line x1="460.6" y1="131.8" x2="460.6" y2="135.8" stroke="#000" stroke-width="1.6"/>
<line x1="460.6" y1="352.0" x2="460.6" y2="356" stroke="#000" stroke-width="1.6"/>
<line x1="467.3" y1="131.8" x2="467.3" y2="135.8" stroke="#000" stroke-width="1.6"/>
<line x1="467.3" y1="352.0" x2="467.3" y2="356" stroke="#000" stroke-width="1.6"/>
<line x1="473.1" y1="131.8" x2="473.1" y2="135.8" stroke="#000" stroke-width="1.6"/>
<line x1="473.1" y1="352.0" x2="473.1" y2="356" stroke="#000" stroke-width="1.6"/>
<line x1="478.2" y1="131.8" x2="478.2" y2="135.8" stroke="#000" stroke-width="1.6"/>
<line x1="478.2" y1="352.0" x2="478.2" y2="356" stroke="#000" stroke-width="1.6"/>
<line x1="482.8" y1="131.8" x2="482.8" y2="138.8" stroke="#000" stroke-width="1.6"/>
<line x1="482.8" y1="352.0" x2="482.8" y2="359" stroke="#000" stroke-width="1.6"/>
<line x1="512.9" y1="131.8" x2="512.9" y2="135.8" stroke="#000" stroke-width="1.6"/>
<line x1="512.9" y1="352.0" x2="512.9" y2="356" stroke="#000" stroke-width="1.6"/>
<line x1="530.5" y1="131.8" x2="530.5" y2="135.8" stroke="#000" stroke-width="1.6"/>
<line x1="530.5" y1="352.0" x2="530.5" y2="356" stroke="#000" stroke-width="1.6"/>
<line x1="542.9" y1="131.8" x2="542.9" y2="135.8" stroke="#000" stroke-width="1.6"/>
<line x1="542.9" y1="352.0" x2="542.9" y2="356" stroke="#000" stroke-width="1.6"/>
<line x1="552.6" y1="131.8" x2="552.6" y2="135.8" stroke="#000" stroke-width="1.6"/>
<line x1="552.6" y1="352.0" x2="552.6" y2="356" stroke="#000" stroke-width="1.6"/>
<line x1="560.5" y1="131.8" x2="560.5" y2="135.8" stroke="#000" stroke-width="1.6"/>
<line x1="560.5" y1="352.0" x2="560.5" y2="356" stroke="#000" stroke-width="1.6"/>
<line x1="567.2" y1="131.8" x2="567.2" y2="135.8" stroke="#000" stroke-width="1.6"/>
<line x1="567.2" y1="352.0" x2="567.2" y2="356" stroke="#000" stroke-width="1.6"/>
<line x1="573" y1="131.8" x2="573" y2="135.8" stroke="#000" stroke-width="1.6"/>
<line x1="573" y1="352.0" x2="573" y2="356" stroke="#000" stroke-width="1.6"/>
<line x1="578.1" y1="131.8" x2="578.1" y2="135.8" stroke="#000" stroke-width="1.6"/>
<line x1="578.1" y1="352.0" x2="578.1" y2="356" stroke="#000" stroke-width="1.6"/>
<line x1="582.7" y1="131.8" x2="582.7" y2="138.8" stroke="#000" stroke-width="1.6"/>
<line x1="582.7" y1="352.0" x2="582.7" y2="359" stroke="#000" stroke-width="1.6"/>
<line x1="612.8" y1="131.8" x2="612.8" y2="135.8" stroke="#000" stroke-width="1.6"/>
<line x1="612.8" y1="352.0" x2="612.8" y2="356" stroke="#000" stroke-width="1.6"/>
<line x1="630.4" y1="131.8" x2="630.4" y2="135.8" stroke="#000" stroke-width="1.6"/>
<line x1="630.4" y1="352.0" x2="630.4" y2="356" stroke="#000" stroke-width="1.6"/>
<line x1="642.8" y1="131.8" x2="642.8" y2="135.8" stroke="#000" stroke-width="1.6"/>
<line x1="642.8" y1="352.0" x2="642.8" y2="356" stroke="#000" stroke-width="1.6"/>
<line x1="652.5" y1="131.8" x2="652.5" y2="135.8" stroke="#000" stroke-width="1.6"/>
<line x1="652.5" y1="352.0" x2="652.5" y2="356" stroke="#000" stroke-width="1.6"/>
<line x1="660.4" y1="131.8" x2="660.4" y2="135.8" stroke="#000" stroke-width="1.6"/>
<line x1="660.4" y1="352.0" x2="660.4" y2="356" stroke="#000" stroke-width="1.6"/>
<line x1="667.1" y1="131.8" x2="667.1" y2="135.8" stroke="#000" stroke-width="1.6"/>
<line x1="667.1" y1="352.0" x2="667.1" y2="356" stroke="#000" stroke-width="1.6"/>
<line x1="672.9" y1="131.8" x2="672.9" y2="135.8" stroke="#000" stroke-width="1.6"/>
<line x1="672.9" y1="352.0" x2="672.9" y2="356" stroke="#000" stroke-width="1.6"/>
<line x1="678" y1="131.8" x2="678" y2="135.8" stroke="#000" stroke-width="1.6"/>
<line x1="678" y1="352.0" x2="678" y2="356" stroke="#000" stroke-width="1.6"/>
<line x1="682.6" y1="131.8" x2="682.6" y2="138.8" stroke="#000" stroke-width="1.6"/>
<line x1="682.6" y1="352.0" x2="682.6" y2="359" stroke="#000" stroke-width="1.6"/>
<line x1="712.7" y1="131.8" x2="712.7" y2="135.8" stroke="#000" stroke-width="1.6"/>
<line x1="712.7" y1="352.0" x2="712.7" y2="356" stroke="#000" stroke-width="1.6"/>
<line x1="730.3" y1="131.8" x2="730.3" y2="135.8" stroke="#000" stroke-width="1.6"/>
<line x1="730.3" y1="352.0" x2="730.3" y2="356" stroke="#000" stroke-width="1.6"/>
<line x1="742.7" y1="131.8" x2="742.7" y2="135.8" stroke="#000" stroke-width="1.6"/>
<line x1="742.7" y1="352.0" x2="742.7" y2="356" stroke="#000" stroke-width="1.6"/>
<line x1="752.4" y1="131.8" x2="752.4" y2="135.8" stroke="#000" stroke-width="1.6"/>
<line x1="752.4" y1="352.0" x2="752.4" y2="356" stroke="#000" stroke-width="1.6"/>
<line x1="760.3" y1="131.8" x2="760.3" y2="135.8" stroke="#000" stroke-width="1.6"/>
<line x1="760.3" y1="352.0" x2="760.3" y2="356" stroke="#000" stroke-width="1.6"/>
<line x1="767" y1="131.8" x2="767" y2="135.8" stroke="#000" stroke-width="1.6"/>
<line x1="767" y1="352.0" x2="767" y2="356" stroke="#000" stroke-width="1.6"/>
<line x1="436.3" y1="352" x2="443.3" y2="352" stroke="#000" stroke-width="1.6"/>
<line x1="439.3" y1="316.4" x2="443.3" y2="316.4" stroke="#000" stroke-width="1.6"/>
<line x1="436.3" y1="280.8" x2="443.3" y2="280.8" stroke="#000" stroke-width="1.6"/>
<line x1="439.3" y1="245.2" x2="443.3" y2="245.2" stroke="#000" stroke-width="1.6"/>
<line x1="436.3" y1="209.6" x2="443.3" y2="209.6" stroke="#000" stroke-width="1.6"/>
<line x1="439.3" y1="174" x2="443.3" y2="174" stroke="#000" stroke-width="1.6"/>
<line x1="436.3" y1="138.4" x2="443.3" y2="138.4" stroke="#000" stroke-width="1.6"/>
<text x="416.7" y="356.4" font-family="'Liberation Sans', sans-serif" font-size="12.6" font-weight="bold" fill="#000" textLength="17.3" lengthAdjust="spacingAndGlyphs">0.0</text>
<text x="416.7" y="285.2" font-family="'Liberation Sans', sans-serif" font-size="12.6" font-weight="bold" fill="#000" textLength="17.3" lengthAdjust="spacingAndGlyphs">0.1</text>
<text x="416.7" y="214" font-family="'Liberation Sans', sans-serif" font-size="12.6" font-weight="bold" fill="#000" textLength="17.3" lengthAdjust="spacingAndGlyphs">0.2</text>
<text x="416.7" y="142.8" font-family="'Liberation Sans', sans-serif" font-size="12.6" font-weight="bold" fill="#000" textLength="17.3" lengthAdjust="spacingAndGlyphs">0.3</text>
<line x1="749.8" y1="352" x2="756.8" y2="352" stroke="#000" stroke-width="1.6"/>
<line x1="752.8" y1="315.3" x2="756.8" y2="315.3" stroke="#000" stroke-width="1.6"/>
<line x1="749.8" y1="278.6" x2="756.8" y2="278.6" stroke="#000" stroke-width="1.6"/>
<line x1="752.8" y1="241.9" x2="756.8" y2="241.9" stroke="#000" stroke-width="1.6"/>
<line x1="749.8" y1="205.2" x2="756.8" y2="205.2" stroke="#000" stroke-width="1.6"/>
<line x1="752.8" y1="168.5" x2="756.8" y2="168.5" stroke="#000" stroke-width="1.6"/>
<line x1="749.8" y1="131.8" x2="756.8" y2="131.8" stroke="#000" stroke-width="1.6"/>
<text x="763.5" y="356.2" font-family="'Liberation Sans', sans-serif" font-size="12.2" font-weight="bold" fill="#000" textLength="29.5" lengthAdjust="spacingAndGlyphs">0.000</text>
<text x="763.5" y="282.8" font-family="'Liberation Sans', sans-serif" font-size="12.2" font-weight="bold" fill="#000" textLength="29.5" lengthAdjust="spacingAndGlyphs">0.001</text>
<text x="763.5" y="209.4" font-family="'Liberation Sans', sans-serif" font-size="12.2" font-weight="bold" fill="#000" textLength="29.5" lengthAdjust="spacingAndGlyphs">0.002</text>
<text x="763.5" y="136" font-family="'Liberation Sans', sans-serif" font-size="12.2" font-weight="bold" fill="#000" textLength="29.5" lengthAdjust="spacingAndGlyphs">0.003</text>
<text x="482.8" y="372.3" text-anchor="middle" font-family="'Liberation Sans', sans-serif" font-size="12.4" font-weight="bold" fill="#000">1</text>
<text x="582.7" y="372.3" text-anchor="middle" font-family="'Liberation Sans', sans-serif" font-size="12.4" font-weight="bold" fill="#000">10</text>
<text x="682.6" y="372.3" text-anchor="middle" font-family="'Liberation Sans', sans-serif" font-size="12.4" font-weight="bold" fill="#000">100</text>
<text x="509" y="387.8" font-family="'Liberation Sans', sans-serif" font-size="14.8" font-weight="bold" fill="#000" textLength="201" lengthAdjust="spacingAndGlyphs">Hydrodynamic diameter / nm</text>
<text transform="translate(415.4,296) rotate(-90)" font-family="'Liberation Sans', sans-serif" font-size="14.8" font-weight="bold" fill="#000" textLength="112" lengthAdjust="spacingAndGlyphs">Abs. @ 225 nm</text>
<text transform="translate(805.4,206.6) rotate(90)" font-family="'Liberation Sans', sans-serif" font-size="15.2" font-weight="bold"><tspan fill="#ff0000">Eu, </tspan><tspan fill="#008000">Th</tspan><tspan fill="#000"> / ng.s</tspan><tspan fill="#000" dy="-6" font-size="9">-1</tspan></text>
<rect x="444.3" y="347.8" width="186" height="3.4" fill="#dedede"/>
<polygon points="625.3,351 626.9,350.6 627.4,351.4 629.1,351.1 629.2,350.4 630.9,350.1 631.3,350.5 633,350.2 633.2,350.1 634.9,349.8 635.4,349.8 637,349.2 637.7,348.7 639,347.6 639.7,347.6 641,346.5 641.1,346.2 642.4,345.1 642.9,345.2 644.3,344.2 644.6,344 645.9,342.9 645.9,342.4 647.2,341.3 647.5,341.2 648.8,340 649.1,340 650.4,338.9 650.7,338.7 651.9,337.6 652.1,337.3 653.4,336.2 653.5,335.6 654.6,334.4 654.8,333.9 655.9,332.6 656.2,332.5 657.3,331.2 657.7,331.2 658.9,329.9 659.2,329.8 660.3,328.6 660.1,328.1 661.3,326.9 661.4,326.7 662.6,325.5 662.8,325.2 664,324 664.7,324.3 665.9,323.1 666.1,322.6 667.1,321.3 667.6,321.1 668.7,319.7 668.4,319.1 669.4,317.8 669.8,317.7 670.9,316.4 670.8,315.8 671.7,314.4 672.4,314.4 673.3,313 674.3,313.2 675.2,311.7 674.6,311 675.6,309.6 675.7,309.3 676.6,307.9 676.6,307.6 677.6,306.3 678,306.3 679,304.9 678.9,304.4 679.9,303 680,302.6 680.8,301.1 681.2,300.7 681.9,299.1 682.5,299 683.2,297.5 683.4,297.2 684.1,295.7 683.9,295.3 684.6,293.7 684.5,293.3 685.2,291.8 685.9,291.8 686.6,290.2 686.7,289.9 687.4,288.4 687.2,288 688,286.4 687.7,286 688.5,284.5 689,284.3 689.6,282.7 690,282.5 690.6,280.9 690.4,280.4 691,278.9 691.4,278.7 692,277.1 692.4,276.9 693,275.4 694,275.5 694.6,273.9 693.2,273 693.9,271.4 694.2,271.3 694.8,269.7 694.8,269.4 695.5,267.8 695.7,267.5 696.3,265.9 696.3,265.6 696.9,264 697.6,263.9 698.1,262.3 697.6,261.7 698.1,260.1 698.6,260 699.2,258.4 699,258 699.5,256.4 701.4,256.7 701.9,255.1 700.5,254.2 701.1,252.6 701.4,252.4 702,250.8 701.6,250.4 702.2,248.8 702.3,248.4 702.7,246.8 703.5,246.6 703.9,244.9 703.7,244.6 704.1,242.9 704.2,242.6 704.6,241 705.6,240.9 706.1,239.3 705.2,238.8 705.7,237.1 706.2,237 706.6,235.3 706,234.8 706.4,233.1 707.1,232.9 707.5,231.3 707.6,231 707.9,229.3 708.8,229.2 709.2,227.5 709.4,227.3 709.8,225.6 708.2,225 708.5,223.3 709.4,223.2 709.8,221.5 709.7,221.2 710,219.5 711,219.4 711.3,217.8 710.3,217.2 710.7,215.6 710.4,215.2 710.8,213.6 711,213.3 711.3,211.6 711.1,211.3 711.5,209.6 712.2,209.5 712.6,207.8 712.6,207.5 712.9,205.8 714.1,205.8 714.5,204.1 713.7,203.6 714,201.9 713.3,201.5 713.7,199.8 713.8,199.5 714.2,197.9 714.2,197.6 714.5,195.9 714.9,195.7 715.2,194 715.2,193.7 715.5,192 715.4,191.7 715.7,190 715.9,189.7 716.2,188.1 716.6,187.8 717,186.2 717,185.9 717.4,184.2 717.1,183.9 717.4,182.2 717.6,181.9 718,180.3 717.6,179.9 717.9,178.2 718.6,178.1 718.9,176.4 718.5,176 718.8,174.3 718.7,174 719,172.3 720.4,172.3 720.7,170.6 719.8,170.1 720.1,168.5 720.7,168.3 721,166.6 720.4,166.2 720.7,164.5 721.4,164.3 721.7,162.7 721.4,163.1 721.7,163.5 716.2,163 716.5,164.7 716.2,164.7 716.4,166.4 717,166.6 717.2,168.3 717.3,168.8 717.8,170.4 718.4,170.9 719.1,172.5 718.5,173 719,174.6 719.3,174.5 719.8,176.2 719.3,176.5 719.8,178.2 720.2,178.3 720.5,180 721,180.1 721.4,181.8 721.2,182.1 721.6,183.8 721.8,184 722.1,185.7 722.2,186 722.5,187.6 722.8,187.9 723.2,189.5 723.2,189.9 723.5,191.5 723,191.9 723.3,193.6 723.8,193.8 724.1,195.5 724.4,195.7 724.7,197.4 724.2,197.8 724.5,199.4 724.8,199.7 725.1,201.3 725,201.7 725.3,203.3 724.6,203.8 724.9,205.4 725.8,205.6 726.1,207.3 725.9,207.6 726.2,209.3 726.5,209.5 726.8,211.2 726.7,211.5 727,213.2 727.8,213.3 728.2,215 727.7,215.4 728.1,217.1 728,217.4 728.3,219.1 728.1,219.4 728.4,221.1 728.6,221.3 728.9,223 729,223.3 729.3,225 730,225.1 730.3,226.8 729.8,227.2 730.1,228.9 730.5,229.1 730.8,230.8 731,231.1 731.3,232.7 731.2,233.1 731.5,234.7 731.9,235 732.2,236.6 731.8,237 732.1,238.7 731.5,239.1 731.8,240.8 732.1,241 732.4,242.7 732.9,242.9 733.2,244.6 732.5,245 732.9,246.7 733.9,246.8 734.2,248.5 733.9,248.9 734.2,250.5 734.2,250.8 734.5,252.5 734.4,252.8 734.7,254.5 734.9,254.8 735.2,256.5 735.4,256.7 735.7,258.4 736.4,258.6 736.8,260.2 736.8,260.5 737.1,262.2 736.3,262.6 736.6,264.3 736.7,264.6 737,266.3 737.1,266.6 737.4,268.2 738.3,268.4 738.6,270 737.9,270.5 738.2,272.1 738.3,272.4 738.7,274.1 739.1,274.3 739.4,276 739.6,276.2 740,277.9 739.6,278.3 739.9,280 740,280.3 740.3,281.9 740.4,282.3 740.8,283.9 740.9,284.3 741.4,286 741.3,286.4 741.8,288 742.6,288.1 743.1,289.7 741.9,290.4 742.4,292 743.6,292 744.1,293.6 743.9,294 744.4,295.6 744.8,295.8 745.3,297.4 745,297.8 745.5,299.5 746,299.6 746.5,301.3 746.7,301.5 747.2,303.1 747.2,303.5 747.8,305.1 747.4,305.5 747.9,307.1 748.2,307.3 748.7,309 748.4,309.4 748.9,311 749.3,311.2 749.8,312.8 749.4,313.3 749.9,314.9 750.3,315.1 750.9,316.7 751.4,316.9 752,318.5 752,318.9 752.6,320.5 752.3,320.9 752.9,322.5 753.3,322.7 753.9,324.3 753.8,324.6 754.4,326.2 754.7,326.4 755.3,328 755.8,328.2 756.4,329.7 756.3,330.3 757,331.8 757.8,331.9 758.6,333.4 758.5,333.8 759.3,335.3 759.6,335.5 760.4,337 760.5,337.2 761.3,338.7 761,339.5 762,340.8 762.8,341 763.9,342.3 764.1,342.6 765.2,343.9 765.1,344.3 766.2,345.6 766.5,345.8 767.7,347.1 767.6,347.7 768.8,348.9 769.5,348.8 770.7,350 770.8,350.3 770.8,350.3 774.1,346.9 774.1,346.9 773.8,346.8 772.6,345.6 772.3,345.6 771.1,344.4 770.9,344.3 769.7,343 770,342.4 768.9,341.1 768.8,340.8 767.7,339.5 767.3,339.5 766.2,338.2 766.5,338 765.5,336.7 765.4,336.6 764.6,335.1 764.7,334.7 763.9,333.2 763.5,333.1 762.7,331.6 762.6,331.3 761.8,329.8 761.4,329.8 760.6,328.3 761.9,327.6 761.2,326 760,326.2 759.3,324.6 759.7,324.2 759,322.6 759,322.3 758.4,320.7 758.1,320.5 757.5,318.9 756.9,318.8 756.3,317.3 756.4,316.9 755.8,315.4 755.8,315.1 755.3,313.5 755.3,313.2 754.8,311.6 755.4,311.1 754.9,309.5 754.2,309.4 753.7,307.7 753.6,307.4 753.1,305.8 753.1,305.5 752.6,303.9 752.3,303.6 751.8,302 752.2,301.6 751.7,300 750.8,300 750.3,298.3 750.9,297.9 750.4,296.2 750.1,296 749.7,294.4 749.1,294.2 748.6,292.6 748.6,292.3 748.1,290.7 748.1,290.4 747.6,288.7 747.8,288.4 747.3,286.7 747.5,286.3 747.1,284.7 747.1,284.5 746.7,282.8 745.9,282.9 745.5,281.2 745.4,280.9 745.1,279.3 745.4,278.9 745.1,277.2 744.8,277 744.5,275.3 744.5,275 744.2,273.3 744.5,273 744.1,271.3 743.7,271.1 743.4,269.4 743.6,269.1 743.3,267.4 742.9,267.2 742.6,265.5 742.5,265.2 742.2,263.5 742.5,263.2 742.2,261.5 742.3,261.1 742,259.5 742.1,259.2 741.8,257.5 742.8,257 742.5,255.3 742,255.1 741.7,253.4 740.4,253.4 740.1,251.7 740,251.4 739.7,249.7 740.5,249.3 740.1,247.6 739.1,247.5 738.7,245.9 739,245.5 738.7,243.9 739.4,243.4 739.1,241.8 739.1,241.4 738.8,239.8 737.7,239.7 737.3,238 737.3,237.7 737,236 737,235.7 736.7,234.1 736.9,233.7 736.6,232.1 736.9,231.7 736.6,230 736.1,229.8 735.8,228.1 735.8,227.8 735.5,226.2 735.1,225.9 734.8,224.2 735.9,223.7 735.6,222.1 735.1,221.8 734.8,220.2 734.5,219.9 734.2,218.2 733.6,218.1 733.3,216.4 734,215.9 733.7,214.3 733.9,213.9 733.6,212.3 732.5,212.2 732.2,210.5 732.4,210.1 732.1,208.5 732.1,208.2 731.8,206.5 731.7,206.2 731.4,204.5 731.6,204.2 731.3,202.5 730.8,202.3 730.5,200.6 730.7,200.3 730.4,198.6 730.6,198.3 730.3,196.6 730.4,196.3 730.1,194.6 729.2,194.4 728.9,192.8 729.4,192.3 729,190.7 728.4,190.5 728.1,188.8 727.9,188.5 727.6,186.9 728.2,186.4 727.9,184.8 727.4,184.6 727,182.9 726.8,182.6 726.5,181 727.3,180.5 727,178.8 726.2,178.6 725.9,176.9 725.4,176.7 725,175 725.3,174.6 724.8,172.9 724.3,172.6 723.8,171 724.3,170.4 723.6,168.8 723,169.1 722.5,167.5 722.6,167.4 722.3,165.7 722.6,165.4 722.3,163.7 722.3,163 722,161.4 716.2,160.8 715.9,160.4 716.2,161.6 715.9,163.2 715.3,163.4 715,165.1 715.2,165.4 714.8,167.1 714.7,167.4 714.3,169 714.1,169.3 713.8,171 713.6,171.2 713.2,172.9 712.8,173.1 712.4,174.8 712.7,175.1 712.4,176.8 712.9,177.2 712.6,178.9 711.9,179.1 711.5,180.7 712.2,181.2 711.9,182.8 711.6,183.1 711.3,184.8 711.1,185 710.8,186.7 710.7,187 710.3,188.7 710.1,188.9 709.8,190.6 710.1,191 709.8,192.6 709.1,192.8 708.8,194.5 709,194.8 708.7,196.5 709.1,196.9 708.8,198.5 708.7,198.8 708.4,200.5 708.1,200.7 707.8,202.4 708,202.7 707.7,204.4 707.3,204.6 706.9,206.3 707.2,206.6 706.8,208.3 706.4,208.5 706.1,210.2 706.1,210.5 705.7,212.1 705.5,212.4 705.1,214.1 704.8,214.3 704.5,216 704.3,216.2 703.9,217.9 704.3,218.3 703.9,219.9 702.9,220 702.6,221.7 703.1,222.1 702.7,223.8 703.3,224.2 702.9,225.9 702.3,226 701.9,227.7 702.1,228 701.7,229.7 701.6,229.9 701.2,231.6 701,231.8 700.6,233.4 700.6,233.7 700.1,235.3 700,235.6 699.5,237.2 699.6,237.6 699.2,239.2 699.1,239.5 698.7,241.2 698.9,241.5 698.4,243.2 698.4,243.5 697.9,245.1 698.1,245.4 697.6,247 697.2,247.1 696.7,248.7 696.7,249 696.2,250.7 696.1,251 695.6,252.6 695,252.7 694.5,254.3 694.4,254.5 693.8,256.1 693.3,256.2 692.7,257.8 693.6,258.5 693,260.1 693.1,260.4 692.5,262 691.7,262 691.2,263.6 691.6,264.1 691,265.6 690.3,265.7 689.7,267.2 689.5,267.5 688.8,269.1 689.3,269.6 688.6,271.1 688.3,271.3 687.6,272.9 687.4,273.2 686.8,274.8 686.3,274.9 685.7,276.5 685.6,276.7 684.9,278.3 685.1,278.7 684.5,280.3 684.3,280.5 683.7,282 683.6,282.2 682.9,283.8 683.3,284.3 682.5,285.8 682.5,286.1 681.8,287.7 681.6,287.9 680.9,289.5 680.8,289.8 680.1,291.3 680.1,291.6 679.4,293.1 679,293.3 678.3,294.9 678.4,295.2 677.7,296.8 677.5,296.9 676.7,298.5 676.6,298.5 675.9,300 676,300.2 675,301.6 674.9,302 674,303.3 673.4,303.3 672.4,304.7 672.4,305.1 671.4,306.5 670.8,306.5 669.8,307.9 669.2,307.9 668.2,309.3 669,310.1 668.1,311.5 667.3,311.1 666.3,312.5 667.2,313.5 666.2,314.8 665.8,314.9 664.7,316.3 664.4,316.4 663.4,317.7 663.2,317.8 662.2,319.2 662.2,319.4 661,320.6 660.5,320.5 659.3,321.7 659.4,322.2 658.2,323.4 657.7,323.5 656.5,324.7 656.1,324.9 655,326.1 655.4,326.9 654.3,328.2 653,327.5 651.9,328.8 652.3,329.5 651.2,330.8 651.6,331.4 650.5,332.6 650.3,332.7 649,333.8 648.4,333.5 647.1,334.6 646.9,334.8 645.6,335.9 645.4,336.2 644.1,337.3 644.2,337.8 642.9,339 642.7,339.1 641.4,340.2 641.4,340.6 640,341.7 639.5,341.4 638.1,342.5 637.9,342.7 636.6,343.8 637,344.4 635.7,345.4 635.9,345.4 634.4,346 634.1,345.6 632.5,345.9 632.2,346.3 630.6,346.6 630.3,346.9 628.6,347.2 628.4,347.4 626.7,347.7 626.4,347.6 624.7,347.9" fill="#c3c3c3" stroke="#c3c3c3" stroke-width="1.0" stroke-linejoin="bevel"/>
<circle cx="443.5" cy="347.5" r="2.3" fill="none" stroke="#808000" stroke-width="0.9"/>
<circle cx="445.2" cy="346.1" r="2.3" fill="none" stroke="#808000" stroke-width="0.9"/>
<circle cx="446.8" cy="344.6" r="2.3" fill="none" stroke="#808000" stroke-width="0.9"/>
<circle cx="448.4" cy="343.1" r="2.3" fill="none" stroke="#808000" stroke-width="0.9"/>
<circle cx="450" cy="341.6" r="2.3" fill="none" stroke="#808000" stroke-width="0.9"/>
<circle cx="451.6" cy="340" r="2.3" fill="none" stroke="#808000" stroke-width="0.9"/>
<circle cx="452.6" cy="338.1" r="2.3" fill="none" stroke="#808000" stroke-width="0.9"/>
<circle cx="453.5" cy="336.1" r="2.3" fill="none" stroke="#808000" stroke-width="0.9"/>
<circle cx="454.5" cy="334.1" r="2.3" fill="none" stroke="#808000" stroke-width="0.9"/>
<circle cx="455.2" cy="332" r="2.3" fill="none" stroke="#808000" stroke-width="0.9"/>
<circle cx="455.8" cy="329.9" r="2.3" fill="none" stroke="#808000" stroke-width="0.9"/>
<circle cx="456.5" cy="327.8" r="2.3" fill="none" stroke="#808000" stroke-width="0.9"/>
<circle cx="457.1" cy="325.7" r="2.3" fill="none" stroke="#808000" stroke-width="0.9"/>
<circle cx="457.7" cy="323.6" r="2.3" fill="none" stroke="#808000" stroke-width="0.9"/>
<circle cx="458.2" cy="321.5" r="2.3" fill="none" stroke="#808000" stroke-width="0.9"/>
<circle cx="458.6" cy="319.3" r="2.3" fill="none" stroke="#808000" stroke-width="0.9"/>
<circle cx="459" cy="317.1" r="2.3" fill="none" stroke="#808000" stroke-width="0.9"/>
<circle cx="459.4" cy="315" r="2.3" fill="none" stroke="#808000" stroke-width="0.9"/>
<circle cx="459.7" cy="312.8" r="2.3" fill="none" stroke="#808000" stroke-width="0.9"/>
<circle cx="460.1" cy="310.6" r="2.3" fill="none" stroke="#808000" stroke-width="0.9"/>
<circle cx="460.5" cy="308.5" r="2.3" fill="none" stroke="#808000" stroke-width="0.9"/>
<circle cx="460.9" cy="306.3" r="2.3" fill="none" stroke="#808000" stroke-width="0.9"/>
<circle cx="461.3" cy="304.1" r="2.3" fill="none" stroke="#808000" stroke-width="0.9"/>
<circle cx="461.7" cy="302" r="2.3" fill="none" stroke="#808000" stroke-width="0.9"/>
<circle cx="462" cy="299.8" r="2.3" fill="none" stroke="#808000" stroke-width="0.9"/>
<circle cx="462.3" cy="297.6" r="2.3" fill="none" stroke="#808000" stroke-width="0.9"/>
<circle cx="462.7" cy="295.4" r="2.3" fill="none" stroke="#808000" stroke-width="0.9"/>
<circle cx="463" cy="293.3" r="2.3" fill="none" stroke="#808000" stroke-width="0.9"/>
<circle cx="463.3" cy="291.1" r="2.3" fill="none" stroke="#808000" stroke-width="0.9"/>
<circle cx="463.6" cy="288.9" r="2.3" fill="none" stroke="#808000" stroke-width="0.9"/>
<circle cx="464" cy="286.7" r="2.3" fill="none" stroke="#808000" stroke-width="0.9"/>
<circle cx="464.3" cy="284.6" r="2.3" fill="none" stroke="#808000" stroke-width="0.9"/>
<circle cx="464.6" cy="282.4" r="2.3" fill="none" stroke="#808000" stroke-width="0.9"/>
<circle cx="464.9" cy="280.2" r="2.3" fill="none" stroke="#808000" stroke-width="0.9"/>
<circle cx="465" cy="278" r="2.3" fill="none" stroke="#808000" stroke-width="0.9"/>
<circle cx="465.2" cy="275.8" r="2.3" fill="none" stroke="#808000" stroke-width="0.9"/>
<circle cx="465.4" cy="273.6" r="2.3" fill="none" stroke="#808000" stroke-width="0.9"/>
<circle cx="465.6" cy="271.4" r="2.3" fill="none" stroke="#808000" stroke-width="0.9"/>
<circle cx="465.8" cy="269.2" r="2.3" fill="none" stroke="#808000" stroke-width="0.9"/>
<circle cx="466" cy="267.1" r="2.3" fill="none" stroke="#808000" stroke-width="0.9"/>
<circle cx="466.1" cy="264.9" r="2.3" fill="none" stroke="#808000" stroke-width="0.9"/>
<circle cx="466.3" cy="262.7" r="2.3" fill="none" stroke="#808000" stroke-width="0.9"/>
<circle cx="466.5" cy="260.5" r="2.3" fill="none" stroke="#808000" stroke-width="0.9"/>
<circle cx="466.7" cy="258.3" r="2.3" fill="none" stroke="#808000" stroke-width="0.9"/>
<circle cx="467" cy="256.1" r="2.3" fill="none" stroke="#808000" stroke-width="0.9"/>
<circle cx="467.2" cy="253.9" r="2.3" fill="none" stroke="#808000" stroke-width="0.9"/>
<circle cx="467.4" cy="251.7" r="2.3" fill="none" stroke="#808000" stroke-width="0.9"/>
<circle cx="467.6" cy="249.5" r="2.3" fill="none" stroke="#808000" stroke-width="0.9"/>
<circle cx="467.9" cy="247.3" r="2.3" fill="none" stroke="#808000" stroke-width="0.9"/>
<circle cx="468.1" cy="245.2" r="2.3" fill="none" stroke="#808000" stroke-width="0.9"/>
<circle cx="468.3" cy="243" r="2.3" fill="none" stroke="#808000" stroke-width="0.9"/>
<circle cx="468.5" cy="240.8" r="2.3" fill="none" stroke="#808000" stroke-width="0.9"/>
<circle cx="468.7" cy="238.6" r="2.3" fill="none" stroke="#808000" stroke-width="0.9"/>
<circle cx="468.9" cy="236.4" r="2.3" fill="none" stroke="#808000" stroke-width="0.9"/>
<circle cx="469.1" cy="234.2" r="2.3" fill="none" stroke="#808000" stroke-width="0.9"/>
<circle cx="469.3" cy="232" r="2.3" fill="none" stroke="#808000" stroke-width="0.9"/>
<circle cx="469.5" cy="229.8" r="2.3" fill="none" stroke="#808000" stroke-width="0.9"/>
<circle cx="469.6" cy="227.6" r="2.3" fill="none" stroke="#808000" stroke-width="0.9"/>
<circle cx="469.8" cy="225.4" r="2.3" fill="none" stroke="#808000" stroke-width="0.9"/>
<circle cx="470" cy="223.2" r="2.3" fill="none" stroke="#808000" stroke-width="0.9"/>
<circle cx="470.2" cy="221" r="2.3" fill="none" stroke="#808000" stroke-width="0.9"/>
<circle cx="470.4" cy="218.9" r="2.3" fill="none" stroke="#808000" stroke-width="0.9"/>
<circle cx="470.5" cy="216.7" r="2.3" fill="none" stroke="#808000" stroke-width="0.9"/>
<circle cx="470.7" cy="214.5" r="2.3" fill="none" stroke="#808000" stroke-width="0.9"/>
<circle cx="470.9" cy="212.3" r="2.3" fill="none" stroke="#808000" stroke-width="0.9"/>
<circle cx="471.1" cy="210.1" r="2.3" fill="none" stroke="#808000" stroke-width="0.9"/>
<circle cx="471.2" cy="207.9" r="2.3" fill="none" stroke="#808000" stroke-width="0.9"/>
<circle cx="471.4" cy="205.7" r="2.3" fill="none" stroke="#808000" stroke-width="0.9"/>
<circle cx="471.5" cy="203.5" r="2.3" fill="none" stroke="#808000" stroke-width="0.9"/>
<circle cx="471.7" cy="201.3" r="2.3" fill="none" stroke="#808000" stroke-width="0.9"/>
<circle cx="471.8" cy="199.1" r="2.3" fill="none" stroke="#808000" stroke-width="0.9"/>
<circle cx="472" cy="196.9" r="2.3" fill="none" stroke="#808000" stroke-width="0.9"/>
<circle cx="472.1" cy="194.7" r="2.3" fill="none" stroke="#808000" stroke-width="0.9"/>
<circle cx="472.2" cy="192.5" r="2.3" fill="none" stroke="#808000" stroke-width="0.9"/>
<circle cx="472.4" cy="190.3" r="2.3" fill="none" stroke="#808000" stroke-width="0.9"/>
<circle cx="472.5" cy="188.1" r="2.3" fill="none" stroke="#808000" stroke-width="0.9"/>
<circle cx="472.7" cy="185.9" r="2.3" fill="none" stroke="#808000" stroke-width="0.9"/>
<circle cx="472.8" cy="183.7" r="2.3" fill="none" stroke="#808000" stroke-width="0.9"/>
<circle cx="473" cy="181.5" r="2.3" fill="none" stroke="#808000" stroke-width="0.9"/>
<circle cx="473.1" cy="179.4" r="2.3" fill="none" stroke="#808000" stroke-width="0.9"/>
<circle cx="473.3" cy="177.2" r="2.3" fill="none" stroke="#808000" stroke-width="0.9"/>
<circle cx="473.4" cy="175" r="2.3" fill="none" stroke="#808000" stroke-width="0.9"/>
<circle cx="473.5" cy="172.8" r="2.3" fill="none" stroke="#808000" stroke-width="0.9"/>
<circle cx="473.7" cy="170.6" r="2.3" fill="none" stroke="#808000" stroke-width="0.9"/>
<circle cx="473.8" cy="168.4" r="2.3" fill="none" stroke="#808000" stroke-width="0.9"/>
<circle cx="474" cy="166.2" r="2.3" fill="none" stroke="#808000" stroke-width="0.9"/>
<circle cx="474.1" cy="164" r="2.3" fill="none" stroke="#808000" stroke-width="0.9"/>
<circle cx="474.3" cy="161.8" r="2.3" fill="none" stroke="#808000" stroke-width="0.9"/>
<circle cx="474.5" cy="159.6" r="2.3" fill="none" stroke="#808000" stroke-width="0.9"/>
<circle cx="474.7" cy="157.4" r="2.3" fill="none" stroke="#808000" stroke-width="0.9"/>
<circle cx="474.9" cy="155.2" r="2.3" fill="none" stroke="#808000" stroke-width="0.9"/>
<circle cx="475.1" cy="153" r="2.3" fill="none" stroke="#808000" stroke-width="0.9"/>
<circle cx="475.3" cy="150.8" r="2.3" fill="none" stroke="#808000" stroke-width="0.9"/>
<circle cx="475.5" cy="148.6" r="2.3" fill="none" stroke="#808000" stroke-width="0.9"/>
<circle cx="475.8" cy="146.5" r="2.3" fill="none" stroke="#808000" stroke-width="0.9"/>
<circle cx="476.2" cy="144.3" r="2.3" fill="none" stroke="#808000" stroke-width="0.9"/>
<circle cx="476.5" cy="142.1" r="2.3" fill="none" stroke="#808000" stroke-width="0.9"/>
<circle cx="476.9" cy="140" r="2.3" fill="none" stroke="#808000" stroke-width="0.9"/>
<circle cx="477.3" cy="137.8" r="2.3" fill="none" stroke="#808000" stroke-width="0.9"/>
<circle cx="478.1" cy="135.8" r="2.3" fill="none" stroke="#808000" stroke-width="0.9"/>
<polyline points="484.2,163 487,187 489.2,203 491.3,218 494,235 496.6,249 499,260 502.5,272 506.5,285 510.5,297 515.5,311 521,324 526.5,334 532,341 538,346.5 545,350 552,351.3" fill="none" stroke="#808000" stroke-width="3.4" stroke-linejoin="bevel"/>
<circle cx="478.9" cy="133.8" r="2.3" fill="none" stroke="#808000" stroke-width="0.9"/>
<circle cx="479.4" cy="135.2" r="2.3" fill="none" stroke="#808000" stroke-width="0.9"/>
<circle cx="480" cy="136.6" r="2.3" fill="none" stroke="#808000" stroke-width="0.9"/>
<circle cx="480.5" cy="138" r="2.3" fill="none" stroke="#808000" stroke-width="0.9"/>
<circle cx="480.7" cy="139.5" r="2.3" fill="none" stroke="#808000" stroke-width="0.9"/>
<circle cx="480.9" cy="141" r="2.3" fill="none" stroke="#808000" stroke-width="0.9"/>
<circle cx="481.1" cy="142.5" r="2.3" fill="none" stroke="#808000" stroke-width="0.9"/>
<circle cx="481.3" cy="143.9" r="2.3" fill="none" stroke="#808000" stroke-width="0.9"/>
<circle cx="481.6" cy="145.4" r="2.3" fill="none" stroke="#808000" stroke-width="0.9"/>
<circle cx="481.8" cy="146.9" r="2.3" fill="none" stroke="#808000" stroke-width="0.9"/>
<circle cx="482" cy="148.4" r="2.3" fill="none" stroke="#808000" stroke-width="0.9"/>
<circle cx="482.2" cy="149.9" r="2.3" fill="none" stroke="#808000" stroke-width="0.9"/>
<circle cx="482.4" cy="151.4" r="2.3" fill="none" stroke="#808000" stroke-width="0.9"/>
<circle cx="482.6" cy="152.9" r="2.3" fill="none" stroke="#808000" stroke-width="0.9"/>
<circle cx="482.9" cy="154.3" r="2.3" fill="none" stroke="#808000" stroke-width="0.9"/>
<circle cx="483.1" cy="155.8" r="2.3" fill="none" stroke="#808000" stroke-width="0.9"/>
<circle cx="483.3" cy="157.3" r="2.3" fill="none" stroke="#808000" stroke-width="0.9"/>
<circle cx="483.6" cy="158.8" r="2.3" fill="none" stroke="#808000" stroke-width="0.9"/>
<circle cx="483.8" cy="160.3" r="2.3" fill="none" stroke="#808000" stroke-width="0.9"/>
<circle cx="484" cy="161.7" r="2.3" fill="none" stroke="#808000" stroke-width="0.9"/>
<circle cx="484.2" cy="163.2" r="2.3" fill="none" stroke="#808000" stroke-width="0.9"/>
<circle cx="484.4" cy="164.7" r="2.3" fill="none" stroke="#808000" stroke-width="0.9"/>
<circle cx="484.6" cy="166.2" r="2.3" fill="none" stroke="#808000" stroke-width="0.9"/>
<circle cx="484.7" cy="167.7" r="2.3" fill="none" stroke="#808000" stroke-width="0.9"/>
<circle cx="484.9" cy="169.2" r="2.3" fill="none" stroke="#808000" stroke-width="0.9"/>
<circle cx="485.1" cy="170.7" r="2.3" fill="none" stroke="#808000" stroke-width="0.9"/>
<circle cx="485.3" cy="172.2" r="2.3" fill="none" stroke="#808000" stroke-width="0.9"/>
<circle cx="485.4" cy="173.7" r="2.3" fill="none" stroke="#808000" stroke-width="0.9"/>
<circle cx="485.6" cy="175.2" r="2.3" fill="none" stroke="#808000" stroke-width="0.9"/>
<circle cx="485.8" cy="176.6" r="2.3" fill="none" stroke="#808000" stroke-width="0.9"/>
<circle cx="486" cy="178.1" r="2.3" fill="none" stroke="#808000" stroke-width="0.9"/>
<circle cx="486.1" cy="179.6" r="2.3" fill="none" stroke="#808000" stroke-width="0.9"/>
<circle cx="486.3" cy="181.1" r="2.3" fill="none" stroke="#808000" stroke-width="0.9"/>
<circle cx="486.5" cy="182.6" r="2.3" fill="none" stroke="#808000" stroke-width="0.9"/>
<circle cx="486.7" cy="184.1" r="2.3" fill="none" stroke="#808000" stroke-width="0.9"/>
<circle cx="486.8" cy="185.6" r="2.3" fill="none" stroke="#808000" stroke-width="0.9"/>
<circle cx="487" cy="187.1" r="2.3" fill="none" stroke="#808000" stroke-width="0.9"/>
<circle cx="487.2" cy="188.6" r="2.3" fill="none" stroke="#808000" stroke-width="0.9"/>
<circle cx="487.4" cy="190" r="2.3" fill="none" stroke="#808000" stroke-width="0.9"/>
<circle cx="487.6" cy="191.5" r="2.3" fill="none" stroke="#808000" stroke-width="0.9"/>
<circle cx="487.8" cy="193" r="2.3" fill="none" stroke="#808000" stroke-width="0.9"/>
<circle cx="488" cy="194.5" r="2.3" fill="none" stroke="#808000" stroke-width="0.9"/>
<circle cx="488.2" cy="196" r="2.3" fill="none" stroke="#808000" stroke-width="0.9"/>
<circle cx="488.4" cy="197.5" r="2.3" fill="none" stroke="#808000" stroke-width="0.9"/>
<circle cx="488.6" cy="199" r="2.3" fill="none" stroke="#808000" stroke-width="0.9"/>
<circle cx="488.8" cy="200.4" r="2.3" fill="none" stroke="#808000" stroke-width="0.9"/>
<circle cx="489.1" cy="201.9" r="2.3" fill="none" stroke="#808000" stroke-width="0.9"/>
<circle cx="489.3" cy="203.4" r="2.3" fill="none" stroke="#808000" stroke-width="0.9"/>
<circle cx="489.5" cy="204.9" r="2.3" fill="none" stroke="#808000" stroke-width="0.9"/>
<circle cx="489.7" cy="206.4" r="2.3" fill="none" stroke="#808000" stroke-width="0.9"/>
<circle cx="489.9" cy="207.9" r="2.3" fill="none" stroke="#808000" stroke-width="0.9"/>
<circle cx="490.1" cy="209.4" r="2.3" fill="none" stroke="#808000" stroke-width="0.9"/>
<circle cx="490.3" cy="210.8" r="2.3" fill="none" stroke="#808000" stroke-width="0.9"/>
<circle cx="490.5" cy="212.3" r="2.3" fill="none" stroke="#808000" stroke-width="0.9"/>
<circle cx="490.7" cy="213.8" r="2.3" fill="none" stroke="#808000" stroke-width="0.9"/>
<circle cx="490.9" cy="215.3" r="2.3" fill="none" stroke="#808000" stroke-width="0.9"/>
<circle cx="491.1" cy="216.8" r="2.3" fill="none" stroke="#808000" stroke-width="0.9"/>
<circle cx="491.3" cy="218.3" r="2.3" fill="none" stroke="#808000" stroke-width="0.9"/>
<circle cx="491.6" cy="219.8" r="2.3" fill="none" stroke="#808000" stroke-width="0.9"/>
<circle cx="491.8" cy="221.2" r="2.3" fill="none" stroke="#808000" stroke-width="0.9"/>
<circle cx="492" cy="222.7" r="2.3" fill="none" stroke="#808000" stroke-width="0.9"/>
<circle cx="492.3" cy="224.2" r="2.3" fill="none" stroke="#808000" stroke-width="0.9"/>
<circle cx="492.5" cy="225.7" r="2.3" fill="none" stroke="#808000" stroke-width="0.9"/>
<circle cx="492.8" cy="227.2" r="2.3" fill="none" stroke="#808000" stroke-width="0.9"/>
<circle cx="493" cy="228.6" r="2.3" fill="none" stroke="#808000" stroke-width="0.9"/>
<circle cx="493.2" cy="230.1" r="2.3" fill="none" stroke="#808000" stroke-width="0.9"/>
<circle cx="493.5" cy="231.6" r="2.3" fill="none" stroke="#808000" stroke-width="0.9"/>
<circle cx="493.7" cy="233.1" r="2.3" fill="none" stroke="#808000" stroke-width="0.9"/>
<circle cx="493.9" cy="234.6" r="2.3" fill="none" stroke="#808000" stroke-width="0.9"/>
<circle cx="494.2" cy="236" r="2.3" fill="none" stroke="#808000" stroke-width="0.9"/>
<circle cx="494.5" cy="237.5" r="2.3" fill="none" stroke="#808000" stroke-width="0.9"/>
<circle cx="494.7" cy="239" r="2.3" fill="none" stroke="#808000" stroke-width="0.9"/>
<circle cx="495" cy="240.5" r="2.3" fill="none" stroke="#808000" stroke-width="0.9"/>
<circle cx="495.3" cy="241.9" r="2.3" fill="none" stroke="#808000" stroke-width="0.9"/>
<circle cx="495.6" cy="243.4" r="2.3" fill="none" stroke="#808000" stroke-width="0.9"/>
<circle cx="495.8" cy="244.9" r="2.3" fill="none" stroke="#808000" stroke-width="0.9"/>
<circle cx="496.1" cy="246.4" r="2.3" fill="none" stroke="#808000" stroke-width="0.9"/>
<circle cx="496.4" cy="247.8" r="2.3" fill="none" stroke="#808000" stroke-width="0.9"/>
<circle cx="496.7" cy="249.3" r="2.3" fill="none" stroke="#808000" stroke-width="0.9"/>
<circle cx="497" cy="250.8" r="2.3" fill="none" stroke="#808000" stroke-width="0.9"/>
<circle cx="497.3" cy="252.2" r="2.3" fill="none" stroke="#808000" stroke-width="0.9"/>
<circle cx="497.6" cy="253.7" r="2.3" fill="none" stroke="#808000" stroke-width="0.9"/>
<circle cx="497.9" cy="255.2" r="2.3" fill="none" stroke="#808000" stroke-width="0.9"/>
<circle cx="498.3" cy="256.6" r="2.3" fill="none" stroke="#808000" stroke-width="0.9"/>
<circle cx="498.6" cy="258.1" r="2.3" fill="none" stroke="#808000" stroke-width="0.9"/>
<circle cx="498.9" cy="259.6" r="2.3" fill="none" stroke="#808000" stroke-width="0.9"/>
<circle cx="499.3" cy="261" r="2.3" fill="none" stroke="#808000" stroke-width="0.9"/>
<circle cx="499.7" cy="262.5" r="2.3" fill="none" stroke="#808000" stroke-width="0.9"/>
<circle cx="500.1" cy="263.9" r="2.3" fill="none" stroke="#808000" stroke-width="0.9"/>
<circle cx="500.6" cy="265.3" r="2.3" fill="none" stroke="#808000" stroke-width="0.9"/>
<circle cx="501" cy="266.8" r="2.3" fill="none" stroke="#808000" stroke-width="0.9"/>
<circle cx="501.4" cy="268.2" r="2.3" fill="none" stroke="#808000" stroke-width="0.9"/>
<circle cx="501.8" cy="269.7" r="2.3" fill="none" stroke="#808000" stroke-width="0.9"/>
<circle cx="502.2" cy="271.1" r="2.3" fill="none" stroke="#808000" stroke-width="0.9"/>
<circle cx="502.7" cy="272.5" r="2.3" fill="none" stroke="#808000" stroke-width="0.9"/>
<circle cx="503.1" cy="274" r="2.3" fill="none" stroke="#808000" stroke-width="0.9"/>
<circle cx="503.5" cy="275.4" r="2.3" fill="none" stroke="#808000" stroke-width="0.9"/>
<circle cx="504" cy="276.8" r="2.3" fill="none" stroke="#808000" stroke-width="0.9"/>
<circle cx="504.4" cy="278.3" r="2.3" fill="none" stroke="#808000" stroke-width="0.9"/>
<circle cx="504.9" cy="279.7" r="2.3" fill="none" stroke="#808000" stroke-width="0.9"/>
<circle cx="505.3" cy="281.1" r="2.3" fill="none" stroke="#808000" stroke-width="0.9"/>
<circle cx="505.8" cy="282.6" r="2.3" fill="none" stroke="#808000" stroke-width="0.9"/>
<circle cx="506.2" cy="284" r="2.3" fill="none" stroke="#808000" stroke-width="0.9"/>
<circle cx="506.6" cy="285.4" r="2.3" fill="none" stroke="#808000" stroke-width="0.9"/>
<circle cx="507.1" cy="286.9" r="2.3" fill="none" stroke="#808000" stroke-width="0.9"/>
<circle cx="507.6" cy="288.3" r="2.3" fill="none" stroke="#808000" stroke-width="0.9"/>
<circle cx="508.1" cy="289.7" r="2.3" fill="none" stroke="#808000" stroke-width="0.9"/>
<circle cx="508.5" cy="291.1" r="2.3" fill="none" stroke="#808000" stroke-width="0.9"/>
<circle cx="509" cy="292.6" r="2.3" fill="none" stroke="#808000" stroke-width="0.9"/>
<circle cx="509.5" cy="294" r="2.3" fill="none" stroke="#808000" stroke-width="0.9"/>
<circle cx="510" cy="295.4" r="2.3" fill="none" stroke="#808000" stroke-width="0.9"/>
<circle cx="510.4" cy="296.8" r="2.3" fill="none" stroke="#808000" stroke-width="0.9"/>
<circle cx="510.9" cy="298.2" r="2.3" fill="none" stroke="#808000" stroke-width="0.9"/>
<circle cx="511.4" cy="299.6" r="2.3" fill="none" stroke="#808000" stroke-width="0.9"/>
<circle cx="512" cy="301.1" r="2.3" fill="none" stroke="#808000" stroke-width="0.9"/>
<circle cx="512.5" cy="302.5" r="2.3" fill="none" stroke="#808000" stroke-width="0.9"/>
<circle cx="513" cy="303.9" r="2.3" fill="none" stroke="#808000" stroke-width="0.9"/>
<circle cx="513.5" cy="305.3" r="2.3" fill="none" stroke="#808000" stroke-width="0.9"/>
<circle cx="514" cy="306.7" r="2.3" fill="none" stroke="#808000" stroke-width="0.9"/>
<circle cx="514.5" cy="308.1" r="2.3" fill="none" stroke="#808000" stroke-width="0.9"/>
<circle cx="515" cy="309.5" r="2.3" fill="none" stroke="#808000" stroke-width="0.9"/>
<circle cx="515.5" cy="310.9" r="2.3" fill="none" stroke="#808000" stroke-width="0.9"/>
<circle cx="516.1" cy="312.3" r="2.3" fill="none" stroke="#808000" stroke-width="0.9"/>
<circle cx="516.6" cy="313.7" r="2.3" fill="none" stroke="#808000" stroke-width="0.9"/>
<circle cx="517.2" cy="315.1" r="2.3" fill="none" stroke="#808000" stroke-width="0.9"/>
<circle cx="517.8" cy="316.5" r="2.3" fill="none" stroke="#808000" stroke-width="0.9"/>
<circle cx="518.4" cy="317.9" r="2.3" fill="none" stroke="#808000" stroke-width="0.9"/>
<circle cx="519" cy="319.2" r="2.3" fill="none" stroke="#808000" stroke-width="0.9"/>
<circle cx="519.6" cy="320.6" r="2.3" fill="none" stroke="#808000" stroke-width="0.9"/>
<circle cx="520.2" cy="322" r="2.3" fill="none" stroke="#808000" stroke-width="0.9"/>
<circle cx="520.7" cy="323.4" r="2.3" fill="none" stroke="#808000" stroke-width="0.9"/>
<circle cx="521.4" cy="324.7" r="2.3" fill="none" stroke="#808000" stroke-width="0.9"/>
<circle cx="522.1" cy="326" r="2.3" fill="none" stroke="#808000" stroke-width="0.9"/>
<circle cx="522.8" cy="327.4" r="2.3" fill="none" stroke="#808000" stroke-width="0.9"/>
<circle cx="523.6" cy="328.7" r="2.3" fill="none" stroke="#808000" stroke-width="0.9"/>
<circle cx="524.3" cy="330" r="2.3" fill="none" stroke="#808000" stroke-width="0.9"/>
<circle cx="525" cy="331.3" r="2.3" fill="none" stroke="#808000" stroke-width="0.9"/>
<circle cx="525.7" cy="332.6" r="2.3" fill="none" stroke="#808000" stroke-width="0.9"/>
<circle cx="526.5" cy="333.9" r="2.3" fill="none" stroke="#808000" stroke-width="0.9"/>
<circle cx="527.4" cy="335.1" r="2.3" fill="none" stroke="#808000" stroke-width="0.9"/>
<circle cx="528.3" cy="336.3" r="2.3" fill="none" stroke="#808000" stroke-width="0.9"/>
<circle cx="529.2" cy="337.5" r="2.3" fill="none" stroke="#808000" stroke-width="0.9"/>
<circle cx="530.2" cy="338.7" r="2.3" fill="none" stroke="#808000" stroke-width="0.9"/>
<circle cx="531.1" cy="339.8" r="2.3" fill="none" stroke="#808000" stroke-width="0.9"/>
<circle cx="532" cy="341" r="2.3" fill="none" stroke="#808000" stroke-width="0.9"/>
<circle cx="533.1" cy="342" r="2.3" fill="none" stroke="#808000" stroke-width="0.9"/>
<circle cx="534.2" cy="343" r="2.3" fill="none" stroke="#808000" stroke-width="0.9"/>
<circle cx="535.3" cy="344.1" r="2.3" fill="none" stroke="#808000" stroke-width="0.9"/>
<circle cx="536.4" cy="345.1" r="2.3" fill="none" stroke="#808000" stroke-width="0.9"/>
<circle cx="537.5" cy="346.1" r="2.3" fill="none" stroke="#808000" stroke-width="0.9"/>
<circle cx="538.8" cy="346.9" r="2.3" fill="none" stroke="#808000" stroke-width="0.9"/>
<circle cx="540.1" cy="347.6" r="2.3" fill="none" stroke="#808000" stroke-width="0.9"/>
<circle cx="541.5" cy="348.2" r="2.3" fill="none" stroke="#808000" stroke-width="0.9"/>
<circle cx="542.8" cy="348.9" r="2.3" fill="none" stroke="#808000" stroke-width="0.9"/>
<circle cx="544.1" cy="349.6" r="2.3" fill="none" stroke="#808000" stroke-width="0.9"/>
<circle cx="545.5" cy="350.1" r="2.3" fill="none" stroke="#808000" stroke-width="0.9"/>
<circle cx="547" cy="350.4" r="2.3" fill="none" stroke="#808000" stroke-width="0.9"/>
<circle cx="548.5" cy="350.6" r="2.3" fill="none" stroke="#808000" stroke-width="0.9"/>
<circle cx="550" cy="350.9" r="2.3" fill="none" stroke="#808000" stroke-width="0.9"/>
<circle cx="551.4" cy="351.2" r="2.3" fill="none" stroke="#808000" stroke-width="0.9"/>
<polyline points="552,351.2 660,351.2 700,351.3 722,351.2 732,350.4 740,351.2 746,351.4" fill="none" stroke="#808000" stroke-width="2.6" stroke-linejoin="bevel"/>
<polygon points="662,352.4 666,351 670.5,349.2 675,347.2 678,346.4 681,347.3 685.5,349.6 690,351 694,352.4" fill="#808000"/>
<polygon points="445.4,343.3 446.4,341.9 446.6,341.7 447.6,340.3 448.5,340.6 449.5,339.1 448.3,338 449.3,336.6 450.5,337.1 451.5,335.7 450.7,334.8 451.7,333.4 452.4,333.4 453.3,332 453.4,331.3 453.9,329.7 454.1,329.2 454.6,327.5 455.4,327.5 456,325.9 455.1,325.3 455.6,323.6 456.3,323.4 456.7,321.7 458,321.5 458.3,319.9 457.4,319.4 457.7,317.7 456.5,317.2 456.9,315.5 457,315.2 457.3,313.6 457.4,313.3 457.7,311.6 458.8,311.5 459.1,309.8 458.3,309.4 458.6,307.7 458.6,307.4 458.9,305.7 460.2,305.7 460.6,304 459.5,303.5 459.9,301.9 459.8,301.5 460.1,299.9 461.2,299.8 461.5,298.1 460.6,297.6 460.9,295.9 461.4,295.7 461.7,294.1 462.1,293.8 462.4,292.1 463,291.9 463.3,290.3 463.1,289.9 463.5,288.3 463.7,288 464.1,286.4 462.9,285.8 463.2,284.1 463.6,283.9 463.9,282.3 464.5,282.1 464.8,280.4 464.8,280.1 465.2,278.5 466.7,278.5 467.1,276.8 465.5,276.2 465.9,274.5 466.1,274.3 466.5,272.6 467.1,272.4 467.5,270.8 466.9,270.2 467.1,268.6 468.3,268.3 468.5,266.7 467.4,266.2 467.6,264.5 467.1,264.1 467.3,262.4 468.3,262.3 468.6,260.6 468,260.2 468.3,258.5 468.4,258.2 468.7,256.6 469,256.3 469.3,254.6 468.5,254.2 468.7,252.5 469.7,252.4 470,250.7 470.3,250.4 470.5,248.7 469.2,248.2 469.4,246.6 470.5,246.4 470.7,244.7 470.1,244.3 470.3,242.6 470.3,242.3 470.5,240.6 470.9,240.4 471.1,238.7 470.8,238.4 471,236.7 472.1,236.7 472.5,235.1 471.4,234.7 471.9,233.1 472.8,233.1 473.3,231.4 473,231.1 473.6,229.6 473.8,229.8 474.7,228.4 476.3,228.9 476.9,227.3 476.2,225.9 476.5,224.2 476.5,223.6 476.8,221.9 476.4,221.6 476.7,219.9 476.3,219.5 476.6,217.8 477.4,217.7 477.8,216 477.9,215.7 478.2,214.1 477.3,213.6 477.6,211.9 478,211.7 478.3,210 478.9,209.8 479.2,208.1 479.7,207.9 480,206.2 478.9,205.7 479.1,204 479.6,203.8 479.9,202.1 480.8,202 481.1,200.3 480.9,200 481.2,198.3 480.4,197.9 480.7,196.2 481.3,196 481.6,194.3 483.1,194.3 483.5,192.7 482.1,192.2 482.5,190.5 482.9,190.3 483.3,188.7 482.6,188.2 483,186.6 483.4,186.3 483.8,184.7 484.6,184.6 484.9,182.9 483.8,182.4 484.3,180.8 485,180.7 485.5,179.1 485.1,178.7 485.5,177 485.3,177 485.7,176.9 480.8,176.9 481,178.6 480.9,178.2 481.1,179.9 481.4,180.2 481.7,181.9 481.2,182.2 481.4,183.9 481,184.3 481.2,186 482.6,186.1 482.8,187.8 482.4,188.8 483.2,189.5 484.9,192.1 486.1,191.9 485.6,190 485.8,191.7 485,190.7 485.1,192.4 485.6,192.7 485.7,194.4 485.1,194.7 485.3,196.4 485.3,196.7 485.5,198.4 485.3,198.7 485.5,200.4 485.2,200.8 485.3,202.5 485.3,202.7 485.4,204.4 486.6,204.6 486.8,206.3 486.8,206.6 486.9,208.3 485.9,208.7 486.1,210.4 486,210.7 486.2,212.4 486.6,212.7 486.7,213.8 492.4,215.2 492.6,213.5 492.5,211.9 492.7,210.3 493.4,210 493.6,208.3 493,208 493.1,206.3 495.6,206.3 495.8,204.6 493.9,204 494.1,202.4 494.2,202.1 494.4,200.4 494.8,200.2 495,198.5 495.1,198.3 495.4,196.6 495.1,196.2 495.3,194.6 495.7,194.3 496,192.6 495.8,192.3 496.1,190.6 495.4,190.6 496.2,189.2 496.8,190.2 498,188.9 496,189.9 497.3,190.7 494.7,190.1 495.7,191.4 496.1,189.8 496.2,191.5 495.7,191.2 495.8,192.9 495.1,193.3 495.2,195 494.7,195.3 494.8,197 494.8,197.3 495,199 495.5,199.3 495.7,200.9 496.2,201.2 496.4,202.9 496.1,203.2 496.2,204.9 495.5,205.3 495.6,207 495.4,207.4 495.6,209.1 497.3,209.2 497.5,210.9 496.7,211.3 496.9,212.9 497.1,213.2 497.2,214.9 497,215.2 497.2,216.9 497.9,217.2 498,218.9 498.3,219.1 498.5,220.8 497.4,221.2 497.6,222.9 498.9,223.5 499.6,224.9 498.8,227.1 500.2,228.1 501.8,229 503.4,229.5 503.2,229.1 503.9,230.4 503.5,228.6 503.7,230.3 503.1,230.2 503.3,231.9 503,232.2 503.2,233.9 502.4,234.3 502.6,236 504.4,236.1 504.6,237.8 504.1,238.1 504.3,239.8 503.9,240.7 504.6,242.2 505.5,242.8 506.2,244.3 506.7,244.5 507.4,246 506.3,246.8 507,248.4 508.2,248.2 508.9,249.8 508.3,250.2 508.9,251.8 506.9,252.5 507.3,254.1 508.4,253.9 508.8,255.5 509.7,255.6 510.2,257.2 509.7,257.7 510.2,259.3 510,259.7 510.4,261.3 511.1,261.4 511.5,263.1 511.4,263.4 511.9,265.1 511.5,265.7 512.1,267.3 513.7,267.2 514.3,268.8 513.9,269.2 514.5,270.8 514.4,271.2 515,272.8 513.7,273.6 514.3,275.2 514.6,275.4 515.2,277 515,277.4 515.6,279 517.1,278.8 517.7,280.4 518.2,280.5 518.8,282.1 517.4,283 518,284.5 516.6,285.4 517.2,287 519.5,286.3 520,287.9 519.5,288.3 520,289.9 521.8,289.6 522.3,291.2 522.3,291.5 522.8,293.1 521.6,293.8 522.1,295.5 522.5,295.7 523,297.3 522,297.9 522.5,299.5 523.3,300 524,301.5 524.2,302.4 525,303.8 525.2,304.2 526.1,305.7 526.9,305.6 527.7,307.1 528.1,307.2 528.9,308.7 529.2,308.9 530.1,310.4 529.6,311.2 530.6,312.6 532.1,312.1 533,313.5 533.3,313.7 534.3,315.1 534.5,315.3 535.4,316.7 535.3,317.3 536.4,318.6 536.9,319 538.1,320.2 538.2,320.7 539.3,321.9 539.7,322 540.8,323.2 540.6,323.9 541.8,325.1 542.8,324.5 544,325.8 543.3,326.5 544.3,327.9 543.3,328.8 544.3,330.2 545.9,329.3 547,330.7 547.5,330.6 548.5,332 547.8,333.4 549.1,334.5 550.6,334.1 551.9,335.1 552.6,334.9 554,335.9 554.2,336.2 555.6,337.2 555.5,338 556.9,338.9 556.9,339.7 558.3,340.6 558.7,340.8 560.2,341.6 561.5,341.4 563.2,341.5 564.1,341.9 565.8,342.1 566.1,341.5 567.8,341.7 567.8,341 569.3,341.7 568,343.5 569.5,344.4 570.4,343.6 572,344.2 573,343.4 574.6,343.9 574.7,344.9 576.4,345.4 576.8,345 578.5,345.4 578.8,345.4 580.4,345.9 580.5,346.9 582.1,347.3 582.5,347.2 584.1,347.6 584.5,347.5 586.2,347.9 586.2,348.9 587.9,349.3 588.6,347.7 590.2,348.1 590.5,349.2 592.2,349.3 592.8,349.2 594.5,349.2 594.9,348.8 596.6,348.8 596.8,349.6 598.5,349.7 598.9,348.4 600.6,348.5 600.9,348.6 602.6,348.7 602.8,349.6 604.5,349.7 604.8,349.7 606.5,349.8 606.9,348.8 608.6,348.9 608.8,349.6 610.5,349.7 610.8,350.3 612.5,350.4 612.8,349.7 614.5,349.8 614.8,349.5 616.5,349.6 616.9,349.3 618.6,349.4 618.8,350 620.5,350.1 620.8,350.4 622.5,350.5 622.8,349.9 624.5,349.9 624.8,350.6 626.5,350.7 626.9,349.7 628.6,349.8 628.8,350.6 630.5,350.7 630.9,350.3 632.6,350.4 632.9,350.2 634.6,350.2 634.8,350.7 636.5,350.9 636.6,350.9 638.2,351.2 638.5,351.4 640.2,351.5 641,351.3 642.6,351 643.3,351.5 645,351.1 645.3,351.3 647,351 647.2,350.7 648.9,350.4 649.2,350.2 650.9,349.9 651.4,350.3 653,349.9 653.4,350 655.1,349.6 655.1,348.5 656.7,348.1 657,348 658.7,347.6 659.2,348.2 660.8,347.7 661.7,349 663.3,348.4 663.4,347.4 665,346.9 665.9,348.5 667.5,347.9 667,345.8 668.6,345.2 669.2,345.5 670.8,344.9 672.1,346.5 673.6,345.7 674.6,346.3 676.1,345.5 675.4,343.5 676.9,342.7 677.6,343.2 679.1,342.4 680.5,343.6 681.9,342.7 681.7,341.4 683.1,340.5 682.9,339.7 684.3,338.7 684.3,338.3 685.7,337.5 687.2,340.8 688.8,340.1 688.4,339.6 689.9,338.9 689.5,337.1 691,336.4 691.5,336.2 693,335.4 694.1,335.9 695.6,335 695.8,334.2 697.2,333.3 698.7,335.1 700.1,334.2 699.8,333.1 701.2,332.3 701.6,333 703.1,332.2 702.1,330.1 703.6,329.3 704.4,330.1 705.9,329.3 708,332.2 709.4,331.3 708.6,328.5 710.1,327.6 711,328.1 712.4,327.1 713.4,328 714.8,327.1 714.6,326.7 716.1,325.8 716.4,326.3 717.9,325.5 717.3,324 718.7,323.1 718.5,322.1 720,321.3 720.6,322.7 722.1,322 722,322.6 723.6,322 722.7,319.3 724.3,318.6 726,322.1 727.5,321.5 724.4,321.6 725.9,322.1 721.4,320.4 722.8,321.4 721.2,319.8 722.2,321.1 723.7,318 724.4,319.6 724.3,319.3 725,320.8 725.8,320.8 726.6,322.3 724.1,324.2 724.9,325.6 725.7,326.3 726.6,327.6 729.9,326.2 730.8,327.6 730.1,328.4 731.1,329.8 732.4,329.4 733.5,330.7 733.4,331.4 734.5,332.7 734.2,333.3 735.3,334.6 733,336.8 734.1,338.2 736.6,336.5 737.7,337.8 737.6,338.3 738.7,339.7 740,339 741.1,340.3 741.9,340.3 743.1,341.5 743.7,341.6 744.9,342.8 745.1,343.2 746.4,344.3 746.3,345.6 747.7,346.5 748.5,346.3 749.9,347.2 750.9,346.4 752.4,347.2 752.4,348.2 753.9,348.9 754.2,349.3 755.7,350 756.1,349.9 757.6,350.7 758.7,349.5 760.3,349.9 760.6,350.7 762.2,351.2 762.7,350.4 764.4,350.9 764.6,351.4 766.3,351.7 766.6,352.3 768.3,352.6 768.8,351.8 770.5,352 770.7,352.3 770.7,352.3 771.4,348.4 771.4,348.4 771.1,348.5 769.4,348.2 769.2,348 767.5,347.7 767.4,347.4 765.8,347 765.6,346.7 764,346.2 763.5,346.8 761.9,346.3 762.3,344.9 760.6,344.4 760,345.6 758.5,344.8 758.6,344.1 757,343.3 756.8,343.3 755.3,342.5 755.2,342.3 753.7,341.5 754.2,340.3 752.8,339.4 752.6,339.6 751.1,338.7 751.1,338.9 749.8,337.9 749.4,338.1 748.1,336.9 748.4,336.4 747.2,335.3 748.2,334.3 747.1,333 746.6,333.2 745.5,331.8 744.3,332.5 743.2,331.1 744.4,329.8 743.3,328.5 744.1,327.6 743,326.2 741.3,327.2 740.3,325.9 742.2,324.2 741.2,322.9 740.6,323.2 739.6,321.8 738.2,322.4 737.2,321 737,321 736.1,319.7 736,319.8 735.1,318.3 736.7,317.4 735.9,315.9 737.2,314.9 736.5,313.4 736.9,311.8 736.2,310.3 734.1,308.9 733.1,307.6 730.8,306.3 729.4,305.3 725,302.5 723.6,302 719.7,301.6 718.1,302.3 718.5,304.1 716.9,304.7 715.8,303.1 714.2,303.7 715.3,308.3 713.7,309 712,307.3 710.6,308.2 709.6,307.1 708.1,308 709.4,311 708,311.8 706.6,310.6 705.1,311.5 704.8,311.8 703.4,312.8 702.8,312.5 701.4,313.4 700.7,312.3 699.2,313.3 701.6,317.1 700.1,317.9 698.9,315.9 697.3,316.7 697.7,318 696.2,318.8 695.8,319.1 694.3,319.9 692,317.3 690.6,318.2 691.3,320 689.9,320.9 690.5,322.5 689,323.4 688.3,322.1 686.8,323 688,324.7 686.5,325.4 686.3,325.3 684.8,325.9 682.5,321.3 680.9,322 681.4,325.1 679.8,325.8 680.6,329.1 679.2,330 677.8,328.7 676.4,329.6 677.2,331.4 675.8,332.4 675.7,332.6 674.3,333.5 674.3,333.7 672.8,334.6 672.3,334 670.8,334.8 671.3,336.4 669.8,337.2 668.9,335.5 667.3,336.3 667.6,336.7 666,337.4 665.7,336.9 664.1,337.5 664,338.2 662.4,338.7 662.3,339.3 660.7,339.8 660.5,339.8 658.9,340.4 658.9,340.8 657.3,341.3 657.2,341.9 655.6,342.4 655.4,343.1 653.8,343.5 653.4,343.2 651.8,343.6 651.5,343.5 649.9,343.9 649.5,343.1 647.8,343.5 647.8,344.6 646.2,344.9 645.9,345.2 644.2,345.5 644,345.8 642.3,346.1 642.4,346.7 640.7,347 640.8,347.4 639.1,347.3 639,346.5 637.3,346.1 636.7,346.8 635,346.7 634.7,346.3 633,346.2 632.7,345.4 631,345.3 630.7,346.4 629,346.3 628.7,346.5 627,346.4 626.7,345.9 625,345.8 624.8,345.4 623.1,345.3 622.8,345.7 621.1,345.6 620.7,346 619,346 618.8,345.1 617.1,345 616.8,345.6 615.1,345.5 614.8,345.2 613.1,345.1 612.7,345.7 611,345.6 610.8,344.8 609.1,344.7 608.8,344.9 607.1,344.8 606.8,345 605.1,344.9 604.8,344.8 603.1,344.7 602.7,345 601,344.9 600.7,344.9 599,344.9 598.8,344.2 597.1,344.2 596.7,345.2 595,345.1 594.8,344 593.1,343.9 593,344.4 591.3,344.3 591.2,344.2 589.6,343.7 589.3,343.5 587.7,343.1 587.4,342.9 585.8,342.5 585.5,342.7 583.8,342.3 583.6,342 582,341.6 581.6,342 579.9,341.5 579.7,341.2 578.1,340.7 577.8,340.7 576.2,340.2 576.4,339.1 574.8,338.6 574.4,339.6 572.8,338.9 573,338.2 571.5,337.3 570.5,337.3 569,336.5 568.3,335.8 566.6,335.7 566.2,336.3 564.5,336.2 564.9,335.8 563.2,335.7 563.2,336.4 561.8,335.6 561.8,335.2 560.4,334.2 560.4,333.8 559,332.9 559.2,332.3 557.8,331.3 557.8,330.9 556.4,329.9 556,330.2 554.6,329.2 554.8,329.3 553.5,328.2 553,328.6 552,327.3 552.9,326.2 551.9,324.8 550.8,325.3 549.7,323.9 550,323.2 548.9,321.8 549.3,320.7 548.2,319.5 548,319.2 546.8,318 546.5,317.8 545.4,316.6 544.6,316.9 543.5,315.6 542.9,315.9 541.8,314.7 542.6,314 541.5,312.7 540.3,313.4 539.4,312 539.9,311.3 538.9,309.9 539.2,309.4 538.2,308 538.8,307.4 537.8,305.9 536.1,306.8 535.2,305.4 535.1,305.2 534.3,303.7 535.3,302.8 534.5,301.3 534.7,300.8 533.9,299.3 533.4,299.4 532.5,298 532.7,298.1 532,296.6 531.9,296.7 531.4,295 531.6,294.7 531.1,293.1 529.8,293.1 529.3,291.5 530.1,290.9 529.6,289.3 528.2,289.4 527.8,287.8 527.6,287.5 527.1,285.9 528.2,285 527.7,283.4 526.9,283.3 526.3,281.7 526.8,281.2 526.2,279.6 526.1,279.3 525.5,277.7 525,277.6 524.4,276 525.5,275.3 524.9,273.7 523.4,274 522.8,272.4 524.2,271.6 523.6,270 521.5,270.4 520.9,268.8 520.9,268.5 520.3,266.9 520.5,266.5 519.9,264.9 519.3,264.9 518.7,263.3 519.6,262.9 519.1,261.3 521.3,260.4 520.9,258.8 519.5,258.8 519,257.2 519,256.9 518.6,255.2 516.9,255.4 516.4,253.8 517.1,253.3 516.7,251.6 517,251 516.5,249.4 515.5,249.1 514.9,247.5 515.1,247 514.4,245.4 513.8,245.3 513.1,243.8 512.1,243.9 511.4,242.3 513.1,241.4 512.4,239.8 511.7,240.4 511.1,238.8 510.4,239.1 510.2,237.4 511.4,237 511.3,235.3 511.3,235 511.1,233.3 510,233.1 509.8,231.4 510.3,231.1 510.1,229.4 508.7,228.8 508.5,227.1 507.6,225.6 506.9,224.3 506.5,223.5 504.9,223 505.3,223.9 503.9,222.8 505.5,223.3 504.8,221.9 503.3,222.4 503.1,220.7 504.4,220.2 504.2,218.6 503.4,218.3 503.3,216.6 503.6,216.3 503.4,214.6 503.4,214.3 503.3,212.6 502.3,212.4 502.1,210.7 502.8,210.4 502.6,208.7 503.1,208.3 503,206.6 503.7,206.3 503.5,204.6 502.3,204.4 502.1,202.7 501.4,202.5 501.3,200.8 501.8,200.5 501.6,198.8 500.9,198.5 500.8,196.8 501.9,196.4 501.7,194.7 501.6,194.5 501.5,192.8 502.1,192.4 502,190.7 500.7,189.7 500.6,188 499.3,187.1 498.3,185.9 495.9,184.1 494.6,183.4 492.8,185.3 491.7,186.6 490.4,187.3 489.6,188.7 490.1,189.7 489.9,191.4 489.2,191.6 488.9,193.3 490.4,193.8 490.1,195.5 489.4,195.7 489.1,197.4 488.3,197.6 488.1,199.3 487.9,199.6 487.7,201.3 487.9,201.7 487.7,203.3 488.9,203.8 488.7,205.5 488.4,205.7 488.2,207.4 487.7,207.7 487.5,209.4 487.6,209.7 487.4,211.4 487.3,210.2 487.1,211.9 493.5,213.1 493.3,211.9 492.9,211.8 492.8,210.1 492.3,209.8 492.1,208.1 493.6,207.7 493.4,206 492.9,205.7 492.7,204 491.5,203.8 491.4,202.1 491.2,201.8 491,200.1 491.5,199.8 491.3,198.1 490.7,197.9 490.5,196.2 490.9,195.8 490.7,194.1 490.8,193.8 490.6,192.1 490.8,191.8 490.6,190.1 489.3,188.5 489.1,186.9 487.9,185.7 486.7,185.9 488.1,187.6 487.4,186.9 487.7,187.2 487.5,185.5 488.3,185.1 488.1,183.4 486.6,183.3 486.4,181.6 487.6,181.1 487.4,179.5 486.1,179.3 485.9,177.6 486,176.8 485.8,175.1 480.4,174.5 480.1,174.6 480.6,175.6 480.1,177.3 479.8,177.5 479.4,179.1 479.3,179.5 478.8,181.1 477.9,181.3 477.6,183 477.9,183.4 477.6,185 477.4,185.3 477,187 478.2,187.5 477.8,189.2 475.7,189 475.3,190.7 476.8,191.4 476.5,193.1 475.7,193.3 475.4,195 475.2,195.2 474.9,196.9 475,197.2 474.7,198.9 475.3,199.3 475,201 474.8,201.2 474.5,202.9 474.6,203.2 474.3,204.9 474.8,205.3 474.6,207 473.5,207.1 473.2,208.8 473.8,209.2 473.5,210.9 473.2,211.1 472.9,212.8 473.3,213.1 473,214.8 472.2,215 471.9,216.6 472.8,217.1 472.5,218.8 472.4,219.1 472.1,220.7 470.9,220.8 470.6,222.5 471.7,222.8 471.4,224.5 470.2,223.8 469.6,225.3 470,225.9 469.1,227.3 469.1,228.1 468.5,229.6 467.4,229.7 466.9,231.4 467.5,231.9 467.1,233.5 467.1,234 466.7,235.6 466.5,236.1 466.3,237.8 465.6,238 465.3,239.7 466.4,240.1 466.2,241.8 466.4,242.1 466.1,243.8 465.4,244 465.1,245.7 464.9,246 464.7,247.6 464.3,247.9 464.1,249.6 464.7,250 464.5,251.6 464.1,251.9 463.9,253.6 464.2,253.9 464,255.6 463.3,255.8 463.1,257.5 463.2,257.8 463,259.5 462.9,259.8 462.7,261.5 462.9,261.8 462.6,263.5 462.3,263.8 462.1,265.4 461.7,265.7 461.4,267.4 462.8,267.8 462.6,269.5 461.6,269.5 461.2,271.2 462,271.6 461.6,273.3 461.7,273.6 461.3,275.3 461,275.5 460.7,277.2 459.7,277.3 459.3,279 459.5,279.3 459.1,281 458.9,281.2 458.5,282.9 458.3,283.2 457.9,284.8 458.4,285.2 458.1,286.9 457.5,287.1 457.2,288.8 457.3,289.1 457,290.8 456.9,291 456.5,292.7 457.1,293.1 456.8,294.8 456.5,295 456.2,296.7 455.8,296.9 455.5,298.6 455.1,298.8 454.8,300.5 455.6,301 455.2,302.6 454.6,302.8 454.2,304.5 454.7,304.9 454.4,306.5 453.9,306.7 453.5,308.4 454.3,308.9 454,310.5 453.2,310.7 452.8,312.4 453.3,312.8 452.9,314.4 452.5,314.6 452.1,316.3 452.3,316.6 452,318.3 451.4,318.5 451,320.2 451.6,320.5 451.3,322.1 450.9,322.2 450.4,323.8 449.9,324 449.4,325.6 449.7,326 449.2,327.6 449,327.6 448.5,329.2 449.3,329.5 448.5,331 448.2,331 447.3,332.4 446.4,332.2 445.4,333.6 444.7,333.5 443.7,334.9 444.3,335.7 443.4,337.1 443.4,337.5 442.5,338.9 442.4,339.2 441.4,340.6" fill="#ff0000" stroke="#ff0000" stroke-width="1.0" stroke-linejoin="bevel"/>
<polygon points="444.3,349.4 445.9,348.7 446.5,349.4 448,348.7 448.1,348.2 449.7,347.6 449.8,346.9 451.3,346.2 451.6,345.4 452.8,344.2 453.9,344.5 455.1,343.3 455.6,343.4 456.8,342.2 456.2,341.2 457.4,340 457.7,339.9 458.9,338.7 459.1,338.4 460.3,337.2 461.1,337.5 462.3,336.3 461.8,335.3 462.9,334 463,333.6 464,332.3 464.8,333 465.9,332.3 463.9,332.7 465.1,333.9 464.4,334.6 465.5,334.6 468.5,333.9 469.5,332.6 469.7,331.2 470.7,329.8 471.7,330.2 472.7,328.8 472.4,328.4 473.6,327.2 474.6,327.9 475.8,326.7 474.7,325.3 475.9,324.1 476.5,324.1 477.6,322.8 478.5,322.8 479.3,321.3 479.6,320.8 480.4,319.3 481,319.3 481.9,317.8 481.4,317.5 482.2,316.5 479.3,317.1 480,318.7 478.2,317.9 478.9,319.5 479.4,319.7 480.2,321.2 481.2,321.4 482.4,322.6 481.9,323.9 483.1,325.1 483.9,324.7 485.1,325.9 485.5,326.1 486.8,327.2 486.9,328.2 488.4,329 489.6,328.1 491.1,328.9 491.2,329.3 492.7,330.1 492.8,330.6 494.3,331.4 494.8,331 496.3,331.8 496.5,331.9 498,332.8 498.3,332.5 499.6,333.5 499.5,334.1 500.8,335.2 501.2,335.2 502.5,336.2 502.9,336.5 504.4,337.3 504.5,338.2 506,339 506.7,338.2 508.2,339 507.9,339.6 509.3,340.7 509.3,340.8 510.7,341.9 511,341.9 512.4,342.9 513.1,342.5 514.4,343.5 514.7,344 516.3,344.6 516.6,345.7 518.2,346.3 519.2,345.7 520.8,345.4 521.8,345.4 523.4,344.8 523.9,344.8 525.5,344.2 524.7,343.7 526,344.8 525.3,344.7 526.5,345.8 526.6,346.1 527.9,347.3 528.1,347.8 529.5,348.7 530.4,348.6 532.1,349.1 532.4,349.9 534,350.3 534.3,350.3 536,350.8 536.4,350.6 538.1,350.9 538.6,350.8 540.3,350.8 540.8,351.5 542.5,351.6 542.8,351.2 544.5,351.2 544.8,351 546.5,351.1 546.8,351 548.5,351 548.8,351.2 550.5,351.3 550.8,350.8 552.5,350.9 552.8,351.7 554.5,351.8 554.8,352 556.5,352.1 556.8,351.7 558.5,351.8 558.8,351.9 560.5,351.9 560.8,351.4 562.5,351.4 562.8,352.6 564.5,352.6 564.8,351.6 566.5,351.6 566.8,351.1 568.5,351.1 568.8,351.9 570.5,351.9 570.8,351.5 572.5,351.5 572.8,351.9 574.5,351.9 574.8,351.8 576.5,351.8 576.8,352.1 578.5,352.1 578.8,351.6 580.5,351.6 580.8,351.9 582.5,351.9 582.8,352.6 584.5,352.6 584.8,352.1 586.5,352.1 586.8,352 588.5,352 588.8,351.8 590.5,351.8 590.8,351.2 592.5,351.2 592.8,351.7 594.5,351.7 594.8,351.1 596.5,351.1 596.8,352 598.5,352 598.8,351.7 600.5,351.7 600.8,351.1 602.5,351.1 602.8,351.6 604.5,351.6 604.8,351.3 606.5,351.3 606.8,351.6 608.5,351.6 608.8,351.8 610.5,351.8 610.8,351.5 612.5,351.5 612.8,351.6 614.5,351.6 614.8,351.8 616.5,351.8 616.8,351.1 618.5,351.1 618.8,351.2 620.5,351.2 620.8,351.9 622.5,351.9 622.8,351.2 624.5,351.2 624.9,351.4 626.6,351.3 627,351.7 628.7,351.6 629,351.3 630.7,351.2 630.9,350.7 632.6,350.6 633,351.5 634.7,351.4 635.1,351 636.7,350.6 637.4,350.5 638.9,349.8 639.4,349.5 640.9,348.8 641.3,348.5 642.7,347.6 643.4,347.9 644.8,346.9 644.9,346.4 646.3,345.5 646.7,345.5 648.1,344.5 648.2,344.2 649.6,343.2 649.7,343.1 651.2,342.2 651.6,342.5 653.1,341.6 653.5,341.7 654.9,340.8 655,340.3 656.4,339.4 657.3,340.1 658.7,339.1 658.5,338 659.9,337 660.7,337.6 662.1,336.6 661.8,335.7 663.2,334.7 664.6,335.9 665.9,334.8 665.6,333.6 666.9,332.5 667.6,332.9 668.9,331.8 668.3,330.7 669.6,329.6 669.8,329.2 671,328 672.7,328.8 673.8,327.5 672.7,325.9 673.7,324.6 674.6,324.9 675.6,323.6 675.7,323.2 676.8,321.9 677.4,321.9 678.4,320.5 679.3,320.5 680.2,319 679.4,318 680.3,316.6 680.5,316.3 681.4,314.9 681.5,314.6 682.4,313.2 683,313.1 683.9,311.7 685.1,311.9 685.9,310.4 685.1,309.6 686,308.1 686.7,308.2 687.5,306.7 688,306.6 688.8,305.1 687.7,304.1 688.5,302.6 691.1,303.4 691.8,301.9 689.3,300.2 690,298.6 691.2,298.9 691.9,297.3 691.4,296.8 692.1,295.2 693.2,295.3 693.9,293.8 694,293.5 694.7,292 693.5,291.1 694.2,289.6 695,289.6 695.7,288.1 696.1,287.9 696.8,286.4 699,287 699.7,285.5 696.6,283.7 697.3,282.2 698.3,282.2 698.9,280.7 699.5,280.6 700.1,279 699.8,278.5 700.4,277 701.7,277.2 702.4,275.6 703.9,275.9 704.6,274.3 701.5,272.7 702.2,271.1 703.9,271.5 704.6,269.9 704.3,269.5 704.9,267.9 704.8,267.6 705.5,266.1 705.1,265.7 705.8,264.1 706.3,264 707,262.5 707.9,262.6 708.6,261.1 708.1,260.5 708.9,258.9 709.3,258.8 710,257.3 708.8,256.4 709.5,254.9 711.1,255.3 711.8,253.8 712,253.5 712.7,252 713.4,252 714.1,250.4 713.9,249.5 714.3,247.8 714.9,247.2 715.3,245.5 714.1,244.9 714.5,243.2 715.2,243.1 715.6,241.4 715.1,240.8 715.3,239.1 716.2,238.7 716.4,237 715.4,236.6 715.6,234.9 715.3,234.5 715.6,232.9 715.3,232.6 715.6,230.9 717.2,231.1 717.6,229.4 718,229.3 718.4,227.7 720.1,227.8 720.5,226.1 718.1,225.2 718.5,223.6 718.6,223.3 718.9,221.6 717.8,221.1 718.1,219.4 718.7,219.4 719.2,217.8 719,217.6 719.6,216 719.4,215.6 719.9,214 720.1,213.8 720.6,212.1 721.9,212.3 722.5,210.7 722.8,210.6 723.5,209 722.6,208.6 723.3,207.1 723.1,206.8 723.9,205.3 723.4,204.7 724.2,203.3 724.2,203.3 725.4,202.1 724.3,203.7 724.8,204.5 720.3,202.3 720.5,204 720.9,203.7 721.1,205.4 721.3,205.6 721.4,207.3 720.6,207.7 720.8,209.4 719.4,209.8 719.6,211.5 721.2,211.6 721.3,213.3 722.4,213.4 722.4,215.1 720.9,215.4 720.9,217.1 721,217.4 721,219.1 722.7,219.4 722.7,221.1 721.7,221.4 721.7,223.1 720.9,223.4 720.9,225.1 720.8,225.4 720.8,227.1 722,227.4 722,229.1 721,229.5 721.1,231.2 722.9,231.6 723.1,233.3 721.5,233.9 721.8,235.6 721.9,235.9 722.2,237.6 722.9,237.8 723.2,239.4 723.2,239.7 723.4,241.4 722.9,241.8 723.2,243.5 724.5,243.6 724.7,245.3 724.5,245.7 724.8,247.3 724,247.9 724.3,249.6 723.6,250.1 724,251.7 725.5,251.7 725.8,253.4 726.1,253.6 726.4,255.3 726.6,255.6 727,257.2 726.4,257.7 726.8,259.3 727.1,259.6 727.5,261.3 726.5,261.9 726.9,263.6 728.5,263.4 729,265.1 726.4,266 726.8,267.7 729.4,267.4 729.8,269 729.3,269.5 729.7,271.1 729.6,271.6 730.1,273.2 728.9,274 729.4,275.6 729.5,275.9 730,277.5 731,277.5 731.5,279.1 731.5,279.4 732,281 732.3,281.3 732.8,282.9 733.9,282.9 734.4,284.5 732.3,285.5 732.8,287.1 733.4,287.2 733.9,288.8 734.8,288.8 735.2,290.4 734.1,291.1 734.6,292.7 736.5,292.5 736.9,294.1 737.3,294.3 737.8,296 735.8,296.9 736.2,298.5 736.7,298.7 737.1,300.3 735.1,301.2 735.6,302.8 739.3,302.1 739.9,303.7 736.6,305.2 737.2,306.8 738.9,306.6 739.4,308.2 740.9,308 741.4,309.6 740.1,310.4 740.7,312 742.3,311.8 742.8,313.4 742.7,313.7 743.3,315.3 742.7,315.8 743.3,317.4 743.4,317.8 743.9,319.4 745.3,319.3 745.9,320.9 744.4,321.7 745,323.3 745.4,323.5 746,325.1 747.2,325 747.8,326.6 747.2,327.1 747.8,328.7 747.7,329.1 748.3,330.7 747.3,331.8 748.1,333.3 750.5,332.8 751.3,334.3 750.7,335 751.5,336.5 752,336.5 752.9,338 753.9,337.9 754.8,339.3 754.5,340.6 755.8,341.7 757.3,341.3 758.6,342.4 759,342.3 760.4,343.4 760.3,344 761.6,345.1 761.8,345.3 763.2,346.3 763.7,346.4 765.1,347.3 765.5,347.4 766.9,348.4 767.2,348.4 768.6,349.3 768.6,349.9 768.6,349.9 771.7,345.3 771.7,345.3 771.2,345.5 769.8,344.5 769.3,344.8 767.9,343.8 767.8,343.5 766.4,342.6 766.1,342.6 764.7,341.6 764.6,341.4 763.3,340.3 763.6,339.5 762.3,338.4 761.6,338.8 760.2,337.7 760.9,337.1 759.6,336 759.4,336.5 758.4,335.1 759.6,334.2 758.7,332.7 758.5,332.5 757.7,331 757.4,330.9 756.5,329.4 756.5,329.4 755.7,327.9 755.2,328.1 754.6,326.5 755.2,326 754.6,324.4 754,324.3 753.4,322.7 754.4,322 753.8,320.4 753.1,320.3 752.5,318.7 751.9,318.7 751.3,317.1 751.6,316.7 751,315.1 750.4,315 749.8,313.4 749.6,313.2 749,311.6 752.4,310.2 751.9,308.6 749.2,309.1 748.7,307.5 747.6,307.6 747,306 747.2,305.6 746.7,304 748.1,303.2 747.5,301.6 745.9,301.9 745.4,300.2 745.4,300 745,298.3 746.1,297.7 745.6,296.1 744.1,296.2 743.6,294.6 743.6,294.3 743.1,292.6 743,292.3 742.5,290.7 743.4,290.2 742.9,288.5 743.2,288.1 742.8,286.5 741.8,286.4 741.3,284.8 741.2,284.5 740.7,282.9 740.2,282.7 739.7,281.1 740.7,280.4 740.2,278.8 740.7,278.3 740.2,276.7 739.1,276.8 738.6,275.1 737.7,275.1 737.2,273.5 739.2,272.5 738.7,270.9 737.6,271 737.1,269.4 736.8,269.3 736.4,267.6 737.2,267.2 736.8,265.5 736.5,265.3 736.1,263.6 736,263.3 735.6,261.7 734,261.8 733.6,260.1 734.5,259.6 734.1,258 733.8,257.8 733.4,256.2 732.5,256.1 732.2,254.4 733,253.9 732.6,252.3 733.1,251.9 732.7,250.2 731.1,250.2 730.7,248.6 730.9,248.3 730.5,246.6 730.2,246.5 729.9,244.8 730.6,244.4 730.4,242.7 729.8,242.5 729.5,240.8 729.8,240.5 729.5,238.8 730.9,238.3 730.7,236.6 730.4,236.4 730.2,234.7 730.2,234.4 729.9,232.7 729.6,232.7 729.4,231 730.2,230.9 730.2,229.2 729.3,229 729.3,227.3 730.2,227 730.2,225.3 728.6,225 728.6,223.3 727.7,223 727.7,221.3 728.1,221 728,219.3 727.5,219 727.5,217.3 729.4,217 729.4,215.3 728.4,215 728.4,213.3 728.8,212.8 728.7,211.1 728.4,210.8 728.2,209.1 728.3,208.8 728.2,207.1 727.6,206.8 727.4,205.1 727.5,204.8 727.4,203.1 728,202.2 727.8,200.5 722.8,195.8 722.3,195 720.6,198.6 719.4,199.8 719.2,200.7 718.4,202.1 718.1,202.4 717.3,203.9 717.8,204.5 717,206.1 715.1,205.8 714.4,207.4 714.5,207.9 713.9,209.5 714.2,209.9 713.6,211.5 713.5,211.8 712.9,213.4 712.5,213.6 712,215.2 711.4,215.6 710.9,217.2 711.5,217.9 711.2,219.5 710.7,219.7 710.3,221.4 710.3,221.7 709.9,223.4 710.8,223.9 710.4,225.5 710.1,225.8 709.7,227.4 709.3,227.7 708.9,229.4 708.4,229.8 708.2,231.5 707.9,231.8 707.7,233.5 708.5,233.9 708.3,235.6 708,235.9 707.8,237.6 708.4,237.8 708.2,239.5 706.2,239.1 705.8,240.8 707.9,241.6 707.5,243.2 706.8,243.4 706.4,245 705.5,244.6 705.1,246.3 704.5,245.8 703.7,247.4 705.5,248.5 704.8,250.1 704.1,250.1 703.4,251.6 703.1,251.8 702.4,253.4 700.7,252.9 700,254.5 700.4,255 699.7,256.5 699.2,256.7 698.5,258.2 698.9,258.7 698.2,260.3 699.6,261.3 698.9,262.8 697.4,262.6 696.7,264.1 694.7,263.7 694,265.3 696.4,266.6 695.8,268.2 694.8,268.1 694.1,269.6 694.5,270.1 693.9,271.7 693.5,271.8 692.8,273.4 693.6,274 692.9,275.5 692.5,275.7 691.9,277.3 692.1,277.7 691.4,279.2 690.4,279.1 689.7,280.7 690,281.1 689.3,282.6 687.9,282.3 687.2,283.9 688.3,284.7 687.6,286.3 687.8,286.7 687.1,288.2 686.7,288.4 686,289.9 686.7,290.6 686,292.1 686.1,292.5 685.4,294.1 684.8,294.1 684.1,295.7 683.7,295.8 683,297.4 681.4,296.8 680.7,298.3 680.4,298.2 679.6,299.7 681.8,301.2 681,302.7 679.7,302.4 678.8,303.8 678.5,304 677.7,305.5 677.9,305.9 677.1,307.4 677.7,308 676.9,309.5 676,309.2 675.1,310.6 675.5,311.3 674.6,312.7 675.2,313.4 674.3,314.8 672.9,314.2 672,315.7 672.8,316.3 671.8,317.7 671.5,317.7 670.5,319 670,319 668.9,320.4 668.9,320.7 667.9,322.1 667.7,322.1 666.7,323.4 667.1,323.9 665.9,325.1 665.6,324.9 664.3,326 664.7,326.9 663.4,328 663.2,328.2 661.9,329.3 661.3,328.9 660,330 660.3,330.7 658.9,331.7 657.6,330.4 656.2,331.4 655.6,331 654.2,331.9 654.7,332.8 653.3,333.8 653.9,335 652.4,335.9 652.2,336.1 650.7,336.9 649.9,336.1 648.4,337 648.7,338.2 647.2,339 646.6,339 645.2,339.9 644.8,339.9 643.4,340.9 643.2,341.1 641.8,342.1 642.1,342.9 640.7,343.9 640.8,344.2 639.4,345.1 639.1,345.2 637.6,345.9 637.7,346.4 636.2,347.2 636.1,346.3 634.5,346.7 634.4,346.7 632.7,346.9 632.4,347.6 630.7,347.7 630.4,347.6 628.7,347.7 628.4,347.9 626.7,348 626.5,348.3 624.8,348.5 624.5,348.3 622.8,348.3 622.5,348.5 620.8,348.5 620.5,348.5 618.8,348.5 618.5,348.4 616.8,348.4 616.5,347.8 614.8,347.8 614.5,348.3 612.8,348.3 612.5,347.9 610.8,347.9 610.5,348.4 608.8,348.4 608.5,348.4 606.8,348.4 606.5,348 604.8,348 604.5,347.6 602.8,347.6 602.5,347.8 600.8,347.8 600.5,348 598.8,348 598.5,348.4 596.8,348.4 596.5,348.5 594.8,348.5 594.5,348.5 592.8,348.5 592.5,347.9 590.8,347.9 590.5,348.4 588.8,348.4 588.5,348.3 586.8,348.3 586.5,346.8 584.8,346.8 584.5,347.8 582.8,347.8 582.5,348.5 580.8,348.5 580.5,348.2 578.8,348.2 578.5,348.4 576.8,348.4 576.5,348.1 574.8,348.1 574.5,347.6 572.8,347.6 572.5,348.1 570.8,348.1 570.5,347.8 568.8,347.8 568.5,347.7 566.8,347.7 566.5,347.5 564.8,347.5 564.5,347.9 562.8,347.9 562.6,347.9 560.9,347.9 560.6,348.2 558.9,348.1 558.6,347.8 556.9,347.7 556.6,348 554.9,348 554.6,348 552.9,348 552.6,347.6 550.9,347.6 550.6,347.8 548.9,347.7 548.6,347.5 546.9,347.5 546.6,347.6 544.9,347.6 544.6,347.6 542.9,347.5 542.6,347.4 540.9,347.3 540.8,347.3 539.1,347.2 538.9,347.5 537.3,347.1 537,347.2 535.4,346.7 535.4,345.5 533.8,345.1 533.4,346 531.8,345.5 532,345.2 530.6,344.4 530.4,344.3 529.2,343.2 529,343 527.7,341.8 526.5,341.2 525.3,340.1 523.8,339.8 522.2,340.4 522.3,341 520.7,341.6 521.1,341.3 519.5,341.7 519.6,342.1 518,341.6 518.6,340.5 517.1,339.9 516.4,341 515,340 515.3,339.2 513.9,338.1 513.6,338.1 512.2,337.1 512,336.6 510.6,335.6 510.2,335.2 508.8,334.4 508.5,334 507,333.3 506.9,333.3 505.4,332.6 505.2,332.7 503.8,331.7 503.7,331.3 502.4,330.3 501.8,330.3 500.5,329.3 500.3,328.6 498.9,327.7 498.2,328 496.7,327.3 496.6,326.8 495.1,326 494.8,325.8 493.3,325.1 492.7,325.6 491.2,324.8 491.4,324.3 489.9,323.6 489.6,324.1 488.3,323.1 488.8,322.3 487.6,321.1 487.5,320.7 486.3,319.5 486.4,319.6 485.2,318.4 485.3,318.6 484.5,317.1 483.5,317.3 482.8,315.8 482,313.3 481.3,311.8 477.5,313.2 476.6,314.2 476.8,314.9 475.9,316.4 474.4,315.8 473.6,317.3 475.4,318.5 474.6,320 473.8,319.3 472.7,320.6 473.2,321.4 472,322.6 471.3,322.3 470.1,323.5 469.9,324 468.7,325.2 468.3,325.5 467.3,326.9 467.1,327.1 466.1,328.5 466.5,327.9 465.5,329.3 468.1,329.4 467,329.4 466,329.5 464.8,328.4 462.8,328.9 461.7,329.6 461.1,329.9 460,331.3 460.5,331.9 459.4,333.3 459,333.2 457.9,334.5 457.2,334.1 456,335.4 455.8,335.6 454.6,336.8 455,337.6 453.8,338.9 453.7,339.2 452.5,340.4 452.3,340.6 451.1,341.8 451,341.8 449.8,343 449.8,342.9 448.3,343.6 447.9,343.3 446.4,344 446,343.8 444.4,344.5 444.2,344.8 442.7,345.5" fill="#008000" stroke="#008000" stroke-width="1.0" stroke-linejoin="bevel"/>
<rect x="498.2" y="145.5" width="102.8" height="21.4" fill="#000"/>
<rect x="492.7" y="140" width="102.8" height="21.4" fill="#fff" stroke="#222" stroke-width="1.3"/>
<line x1="503.5" y1="151" x2="537" y2="151" stroke="#ff0000" stroke-width="4.2" stroke-linecap="round"/>
<text x="542.8" y="156" font-family="'Liberation Sans', sans-serif" font-size="14.6" font-weight="bold" fill="#ff0000" textLength="41.5" lengthAdjust="spacingAndGlyphs">Eu153</text>
<rect x="507" y="177.5" width="101.5" height="21.2" fill="#000"/>
<rect x="501.5" y="172" width="101.5" height="21.2" fill="#fff" stroke="#222" stroke-width="1.3"/>
<line x1="512.5" y1="182.9" x2="547" y2="182.9" stroke="#008000" stroke-width="4.2" stroke-linecap="round"/>
<text x="551.6" y="187.9" font-family="'Liberation Sans', sans-serif" font-size="14.6" font-weight="bold" fill="#008000" textLength="42.5" lengthAdjust="spacingAndGlyphs">Th232</text>
<circle cx="448" cy="401.5" r="1.9" fill="#fff" stroke="#808000" stroke-width="0.9"/>
<text x="471" y="405.3" font-family="'Liberation Sans', sans-serif" font-size="14.8" font-weight="bold" fill="#000" textLength="76.5" lengthAdjust="spacingAndGlyphs">Humic acid</text>
<line x1="565" y1="401.6" x2="600" y2="401.6" stroke="#c0c0c0" stroke-width="3.4" stroke-linecap="round"/>
<text x="603.5" y="405.3" font-family="'Liberation Sans', sans-serif" font-size="14.8" font-weight="bold" fill="#c0c0c0" textLength="155" lengthAdjust="spacingAndGlyphs">Bentonite colloids (Al)</text>
</g>
</svg></body></html>
